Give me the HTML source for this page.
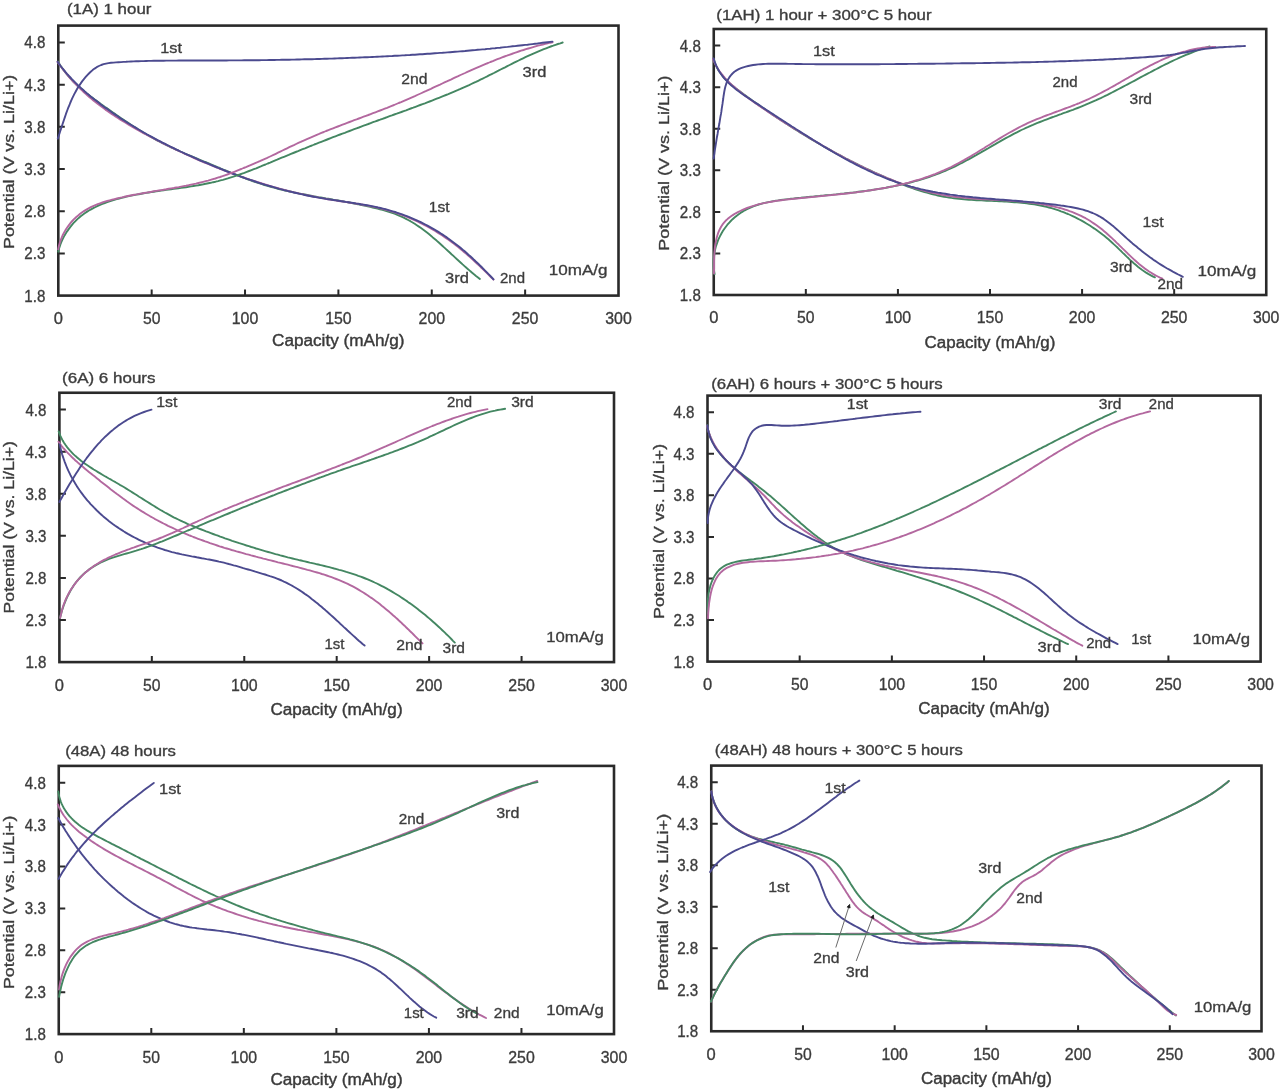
<!DOCTYPE html>
<html><head><meta charset="utf-8"><title>Charge-discharge curves</title>
<style>
html,body{margin:0;padding:0;background:#fff;}
body{width:1280px;height:1090px;overflow:hidden;}
svg{display:block;filter:blur(0.45px);}
.t{font-family:"Liberation Sans","Noto Sans CJK JP",sans-serif;font-size:14.5px;fill:#3a3a3a;stroke:#444;stroke-width:0.35px;}
.ax{font-family:"Liberation Sans",sans-serif;font-size:16px;fill:#3a3a3a;stroke:#3a3a3a;stroke-width:0.4px;}
.n{font-family:"Liberation Sans",sans-serif;font-size:16.5px;fill:#3a3a3a;stroke:#444;stroke-width:0.35px;}
.l{font-family:"Liberation Sans",sans-serif;font-size:15.5px;fill:#3a3a3a;stroke:#444;stroke-width:0.35px;}
</style></head><body>
<svg width="1280" height="1090" viewBox="0 0 1280 1090">
<rect width="1280" height="1090" fill="#fff"/>
<rect x="58.30" y="25.60" width="560.20" height="270.00" fill="none" stroke="#2a2a2a" stroke-width="2.6"/>
<path d="M58.30,253.41h6.5 M58.30,211.23h6.5 M58.30,169.04h6.5 M58.30,126.85h6.5 M58.30,84.66h6.5 M58.30,42.48h6.5 M151.67,295.60v-6 M245.03,295.60v-6 M338.40,295.60v-6 M431.77,295.60v-6 M525.13,295.60v-6" stroke="#2a2a2a" stroke-width="2" fill="none"/>
<text class="n" x="45.3" y="301.5" text-anchor="end" textLength="21.0" lengthAdjust="spacingAndGlyphs">1.8</text>
<text class="n" x="45.3" y="259.3" text-anchor="end" textLength="21.0" lengthAdjust="spacingAndGlyphs">2.3</text>
<text class="n" x="45.3" y="217.1" text-anchor="end" textLength="21.0" lengthAdjust="spacingAndGlyphs">2.8</text>
<text class="n" x="45.3" y="174.9" text-anchor="end" textLength="21.0" lengthAdjust="spacingAndGlyphs">3.3</text>
<text class="n" x="45.3" y="132.8" text-anchor="end" textLength="21.0" lengthAdjust="spacingAndGlyphs">3.8</text>
<text class="n" x="45.3" y="90.6" text-anchor="end" textLength="21.0" lengthAdjust="spacingAndGlyphs">4.3</text>
<text class="n" x="45.3" y="48.4" text-anchor="end" textLength="21.0" lengthAdjust="spacingAndGlyphs">4.8</text>
<text class="n" x="58.3" y="324.0" text-anchor="middle">0</text>
<text class="n" x="151.7" y="324.0" text-anchor="middle" textLength="17.5" lengthAdjust="spacingAndGlyphs">50</text>
<text class="n" x="245.0" y="324.0" text-anchor="middle" textLength="26.5" lengthAdjust="spacingAndGlyphs">100</text>
<text class="n" x="338.4" y="324.0" text-anchor="middle" textLength="26.5" lengthAdjust="spacingAndGlyphs">150</text>
<text class="n" x="431.8" y="324.0" text-anchor="middle" textLength="26.5" lengthAdjust="spacingAndGlyphs">200</text>
<text class="n" x="525.1" y="324.0" text-anchor="middle" textLength="26.5" lengthAdjust="spacingAndGlyphs">250</text>
<text class="n" x="618.5" y="324.0" text-anchor="middle" textLength="26.5" lengthAdjust="spacingAndGlyphs">300</text>
<text class="t" x="67.0" y="14.0" textLength="84.4" lengthAdjust="spacingAndGlyphs">(1A) 1 hour</text>
<text class="ax" x="272.0" y="346.4" textLength="132.5" lengthAdjust="spacingAndGlyphs">Capacity (mAh/g)</text>
<text class="t" transform="translate(14.0,249.0) rotate(-90)" x="0" y="0" textLength="174.3" lengthAdjust="spacingAndGlyphs">Potential (V vs. Li/Li+)</text>
<path d="M58.0,61.6 L59.3,63.7 L60.7,65.9 L62.1,68.0 L63.5,70.0 L65.0,72.0 L66.6,74.0 L68.2,75.9 L69.9,77.8 L71.6,79.6 L73.3,81.5 L75.1,83.2 L76.9,85.0 L78.8,86.7 L80.7,88.3 L82.6,90.0 L84.5,91.6 L86.5,93.2 L88.4,94.8 L90.4,96.3 L92.4,97.8 L94.4,99.3 L96.5,100.8 L98.5,102.3 L100.5,103.8 L102.6,105.2 L104.6,106.7 L106.7,108.1 L108.8,109.6 L110.8,111.0 L112.9,112.5 L114.9,113.9 L117.0,115.4 L119.1,116.8 L121.1,118.2 L123.2,119.6 L125.3,121.0 L127.4,122.4 L129.5,123.8 L131.6,125.2 L133.7,126.6 L135.9,127.9 L138.0,129.2 L140.1,130.6 L142.3,131.9 L144.4,133.2 L146.6,134.5 L148.8,135.7 L151.0,137.0 L153.2,138.2 L155.4,139.4 L157.6,140.6 L159.8,141.7 L162.1,142.9 L164.3,144.0 L166.6,145.1 L168.8,146.2 L171.1,147.3 L173.4,148.3 L175.7,149.4 L178.0,150.4 L180.3,151.5 L182.6,152.5 L184.9,153.5 L187.2,154.5 L189.5,155.5 L191.8,156.4 L194.1,157.4 L196.5,158.4 L198.8,159.3 L201.1,160.3 L203.4,161.3 L205.8,162.2 L208.1,163.2 L210.4,164.2 L212.7,165.1 L215.1,166.1 L217.4,167.1 L219.7,168.0 L222.0,169.0 L224.3,170.0 L226.7,170.9 L229.0,171.9 L231.3,172.9 L233.6,173.8 L236.0,174.7 L238.3,175.7 L240.7,176.6 L243.0,177.5 L245.4,178.4 L247.7,179.3 L250.1,180.2 L252.4,181.0 L254.8,181.8 L257.2,182.6 L259.6,183.4 L262.0,184.2 L264.4,185.0 L266.8,185.7 L269.2,186.4 L271.6,187.1 L274.1,187.7 L276.5,188.4 L278.9,189.0 L281.4,189.6 L283.8,190.2 L286.3,190.7 L288.7,191.3 L291.2,191.8 L293.6,192.3 L296.1,192.9 L298.6,193.4 L301.0,193.9 L303.5,194.3 L306.0,194.8 L308.5,195.3 L310.9,195.7 L313.4,196.2 L315.9,196.6 L318.4,197.1 L320.8,197.5 L323.3,197.9 L325.8,198.4 L328.3,198.8 L330.8,199.2 L333.2,199.7 L335.7,200.1 L338.2,200.5 L340.7,201.0 L343.1,201.4 L345.6,201.9 L348.1,202.3 L350.6,202.8 L353.0,203.3 L355.5,203.8 L358.0,204.2 L360.4,204.8 L362.9,205.3 L365.4,205.8 L367.8,206.3 L370.3,206.9 L372.7,207.5 L375.2,208.1 L377.6,208.7 L380.0,209.3 L382.5,209.9 L384.9,210.6 L387.3,211.3 L389.7,212.1 L392.1,212.9 L394.5,213.7 L396.8,214.6 L399.1,215.6 L401.5,216.6 L403.7,217.7 L406.0,218.8 L408.2,220.0 L410.4,221.2 L412.6,222.5 L414.7,223.8 L416.8,225.2 L418.9,226.6 L421.0,228.0 L423.0,229.5 L425.0,231.0 L427.0,232.6 L428.9,234.1 L430.9,235.7 L432.8,237.4 L434.7,239.0 L436.6,240.6 L438.5,242.3 L440.4,244.0 L442.3,245.7 L444.1,247.4 L446.0,249.1 L447.8,250.8 L449.7,252.5 L451.5,254.2 L453.4,255.9 L455.2,257.6 L457.0,259.3 L458.9,261.0 L460.8,262.7 L462.6,264.4 L464.5,266.1 L466.4,267.8 L468.3,269.4 L470.2,271.1 L472.1,272.7 L474.0,274.3 L476.0,275.9 L478.0,277.4 L479.9,279.0" stroke="#448762" stroke-width="1.90" fill="none" stroke-linecap="round" stroke-linejoin="round"/>
<path d="M57.5,61.9 L58.9,63.9 L60.4,66.0 L61.9,68.0 L63.4,70.0 L65.0,72.0 L66.6,73.9 L68.2,75.9 L69.8,77.8 L71.5,79.6 L73.2,81.5 L74.9,83.3 L76.7,85.2 L78.4,86.9 L80.2,88.7 L82.0,90.4 L83.9,92.2 L85.7,93.8 L87.6,95.5 L89.5,97.2 L91.5,98.8 L93.4,100.4 L95.4,102.0 L97.3,103.5 L99.3,105.1 L101.3,106.6 L103.4,108.1 L105.4,109.6 L107.4,111.0 L109.5,112.5 L111.6,113.9 L113.7,115.3 L115.8,116.7 L117.9,118.0 L120.0,119.4 L122.1,120.7 L124.3,122.0 L126.4,123.3 L128.6,124.6 L130.8,125.9 L132.9,127.2 L135.1,128.4 L137.3,129.7 L139.5,130.9 L141.7,132.1 L143.9,133.3 L146.1,134.5 L148.4,135.7 L150.6,136.9 L152.8,138.0 L155.1,139.2 L157.3,140.4 L159.5,141.5 L161.8,142.6 L164.0,143.8 L166.3,144.9 L168.5,146.0 L170.8,147.1 L173.1,148.2 L175.3,149.3 L177.6,150.4 L179.9,151.5 L182.1,152.5 L184.4,153.6 L186.7,154.7 L189.0,155.7 L191.3,156.7 L193.6,157.8 L195.9,158.8 L198.2,159.8 L200.5,160.8 L202.8,161.8 L205.1,162.8 L207.5,163.7 L209.8,164.7 L212.1,165.7 L214.5,166.6 L216.8,167.5 L219.1,168.5 L221.5,169.4 L223.8,170.3 L226.2,171.2 L228.5,172.1 L230.9,173.0 L233.2,173.8 L235.6,174.7 L238.0,175.5 L240.3,176.4 L242.7,177.2 L245.1,178.0 L247.5,178.9 L249.9,179.7 L252.3,180.4 L254.7,181.2 L257.1,182.0 L259.5,182.7 L261.9,183.5 L264.3,184.2 L266.7,184.9 L269.1,185.7 L271.5,186.4 L273.9,187.1 L276.3,187.7 L278.8,188.4 L281.2,189.1 L283.6,189.7 L286.1,190.3 L288.5,191.0 L291.0,191.6 L293.4,192.2 L295.8,192.8 L298.3,193.3 L300.8,193.9 L303.2,194.4 L305.7,195.0 L308.1,195.5 L310.6,196.0 L313.1,196.5 L315.5,197.0 L318.0,197.4 L320.5,197.9 L323.0,198.4 L325.4,198.8 L327.9,199.2 L330.4,199.6 L332.9,200.0 L335.4,200.4 L337.9,200.8 L340.3,201.2 L342.8,201.5 L345.3,201.9 L347.8,202.3 L350.3,202.7 L352.8,203.1 L355.3,203.5 L357.8,203.9 L360.2,204.3 L362.7,204.7 L365.2,205.2 L367.7,205.6 L370.1,206.1 L372.6,206.6 L375.1,207.1 L377.5,207.7 L380.0,208.3 L382.4,208.9 L384.9,209.5 L387.3,210.2 L389.7,210.9 L392.1,211.6 L394.5,212.4 L396.9,213.2 L399.3,214.0 L401.6,214.8 L404.0,215.7 L406.3,216.6 L408.7,217.6 L411.0,218.6 L413.3,219.6 L415.6,220.6 L417.9,221.7 L420.1,222.8 L422.4,223.9 L424.6,225.1 L426.8,226.2 L429.0,227.5 L431.2,228.7 L433.4,230.0 L435.6,231.2 L437.7,232.6 L439.8,233.9 L442.0,235.3 L444.0,236.7 L446.1,238.1 L448.2,239.5 L450.2,241.0 L452.2,242.5 L454.3,244.0 L456.2,245.6 L458.2,247.1 L460.2,248.7 L462.1,250.3 L464.0,251.9 L466.0,253.6 L467.9,255.2 L469.7,256.9 L471.6,258.6 L473.5,260.3 L475.3,262.0 L477.2,263.7 L479.0,265.4 L480.8,267.2 L482.6,268.9 L484.4,270.6 L486.2,272.4 L488.0,274.2 L489.8,276.0 L491.6,277.7 L493.4,279.5" stroke="#b3689f" stroke-width="1.90" fill="none" stroke-linecap="round" stroke-linejoin="round"/>
<path d="M57.7,61.9 L59.1,64.0 L60.6,66.0 L62.2,68.0 L63.8,69.9 L65.4,71.9 L67.0,73.8 L68.7,75.7 L70.4,77.5 L72.1,79.4 L73.9,81.2 L75.6,82.9 L77.4,84.7 L79.3,86.4 L81.1,88.2 L83.0,89.8 L84.8,91.5 L86.7,93.2 L88.7,94.8 L90.6,96.4 L92.6,98.0 L94.5,99.6 L96.5,101.1 L98.5,102.6 L100.5,104.2 L102.5,105.7 L104.5,107.2 L106.6,108.6 L108.6,110.1 L110.7,111.6 L112.7,113.0 L114.8,114.4 L116.9,115.8 L119.0,117.2 L121.1,118.6 L123.2,120.0 L125.3,121.3 L127.4,122.7 L129.6,124.0 L131.7,125.3 L133.9,126.6 L136.0,127.9 L138.2,129.2 L140.4,130.5 L142.5,131.8 L144.7,133.0 L146.9,134.3 L149.1,135.5 L151.3,136.7 L153.5,137.9 L155.7,139.1 L158.0,140.3 L160.2,141.4 L162.4,142.6 L164.7,143.7 L166.9,144.9 L169.2,146.0 L171.4,147.1 L173.7,148.2 L175.9,149.3 L178.2,150.4 L180.5,151.5 L182.8,152.5 L185.0,153.6 L187.3,154.6 L189.6,155.7 L191.9,156.7 L194.2,157.7 L196.5,158.7 L198.8,159.8 L201.1,160.8 L203.4,161.7 L205.8,162.7 L208.1,163.7 L210.4,164.7 L212.7,165.6 L215.1,166.6 L217.4,167.5 L219.7,168.5 L222.1,169.4 L224.4,170.3 L226.7,171.3 L229.1,172.2 L231.4,173.1 L233.8,174.0 L236.1,174.8 L238.5,175.7 L240.9,176.6 L243.2,177.4 L245.6,178.3 L248.0,179.1 L250.4,179.9 L252.7,180.7 L255.1,181.5 L257.5,182.3 L259.9,183.1 L262.3,183.8 L264.7,184.6 L267.1,185.3 L269.5,186.0 L272.0,186.7 L274.4,187.4 L276.8,188.1 L279.2,188.8 L281.7,189.4 L284.1,190.1 L286.5,190.7 L289.0,191.3 L291.4,191.9 L293.9,192.5 L296.3,193.0 L298.8,193.6 L301.2,194.1 L303.7,194.7 L306.1,195.2 L308.6,195.7 L311.1,196.2 L313.5,196.7 L316.0,197.1 L318.5,197.6 L321.0,198.0 L323.4,198.4 L325.9,198.9 L328.4,199.3 L330.9,199.6 L333.4,200.0 L335.9,200.4 L338.4,200.8 L340.9,201.1 L343.3,201.5 L345.8,201.9 L348.3,202.2 L350.8,202.6 L353.3,203.0 L355.8,203.4 L358.3,203.7 L360.8,204.2 L363.2,204.6 L365.7,205.0 L368.2,205.4 L370.7,205.9 L373.1,206.4 L375.6,206.9 L378.1,207.5 L380.5,208.0 L382.9,208.6 L385.4,209.2 L387.8,209.9 L390.2,210.6 L392.7,211.3 L395.1,212.0 L397.4,212.8 L399.8,213.6 L402.2,214.4 L404.6,215.3 L406.9,216.2 L409.3,217.1 L411.6,218.1 L413.9,219.1 L416.2,220.1 L418.5,221.2 L420.8,222.2 L423.0,223.3 L425.3,224.5 L427.5,225.7 L429.7,226.9 L431.9,228.1 L434.1,229.3 L436.2,230.6 L438.4,231.9 L440.5,233.3 L442.6,234.6 L444.7,236.0 L446.8,237.4 L448.9,238.9 L450.9,240.4 L452.9,241.9 L454.9,243.4 L456.9,244.9 L458.9,246.5 L460.8,248.1 L462.7,249.7 L464.7,251.3 L466.6,253.0 L468.4,254.7 L470.3,256.3 L472.2,258.0 L474.0,259.8 L475.8,261.5 L477.7,263.2 L479.5,265.0 L481.3,266.7 L483.0,268.5 L484.8,270.3 L486.6,272.1 L488.3,273.9 L490.1,275.7 L491.8,277.5 L493.5,279.4" stroke="#4b4a8f" stroke-width="1.90" fill="none" stroke-linecap="round" stroke-linejoin="round"/>
<path d="M58.2,251.7 L58.8,249.3 L59.6,246.9 L60.4,244.5 L61.3,242.2 L62.3,239.9 L63.4,237.6 L64.6,235.4 L65.9,233.3 L67.3,231.1 L68.7,229.1 L70.2,227.1 L71.8,225.1 L73.4,223.2 L75.2,221.4 L76.9,219.6 L78.8,217.9 L80.7,216.3 L82.7,214.8 L84.7,213.3 L86.8,211.9 L88.9,210.5 L91.1,209.3 L93.3,208.1 L95.6,207.0 L97.8,205.9 L100.1,204.9 L102.4,203.9 L104.8,203.0 L107.2,202.1 L109.5,201.3 L111.9,200.6 L114.3,199.8 L116.7,199.1 L119.2,198.5 L121.6,197.9 L124.0,197.3 L126.5,196.7 L128.9,196.1 L131.4,195.6 L133.9,195.1 L136.3,194.6 L138.8,194.2 L141.3,193.7 L143.7,193.3 L146.2,192.9 L148.7,192.5 L151.2,192.1 L153.7,191.7 L156.1,191.3 L158.6,191.0 L161.1,190.6 L163.6,190.3 L166.1,189.9 L168.6,189.6 L171.1,189.3 L173.6,188.9 L176.1,188.6 L178.5,188.2 L181.0,187.9 L183.5,187.5 L186.0,187.2 L188.5,186.8 L191.0,186.4 L193.5,186.0 L195.9,185.6 L198.4,185.2 L200.9,184.7 L203.4,184.3 L205.8,183.8 L208.3,183.3 L210.7,182.8 L213.2,182.2 L215.6,181.7 L218.1,181.1 L220.5,180.4 L222.9,179.8 L225.4,179.1 L227.8,178.4 L230.2,177.6 L232.6,176.9 L234.9,176.1 L237.3,175.3 L239.7,174.5 L242.1,173.6 L244.4,172.8 L246.8,171.9 L249.1,171.0 L251.5,170.1 L253.8,169.2 L256.2,168.3 L258.5,167.3 L260.8,166.4 L263.1,165.4 L265.5,164.5 L267.8,163.5 L270.1,162.6 L272.4,161.6 L274.7,160.6 L277.1,159.7 L279.4,158.7 L281.7,157.7 L284.0,156.8 L286.4,155.8 L288.7,154.9 L291.0,153.9 L293.3,153.0 L295.7,152.0 L298.0,151.1 L300.3,150.1 L302.6,149.2 L305.0,148.3 L307.3,147.3 L309.6,146.4 L312.0,145.5 L314.3,144.5 L316.7,143.6 L319.0,142.7 L321.3,141.8 L323.7,140.9 L326.0,140.0 L328.4,139.0 L330.7,138.1 L333.0,137.2 L335.4,136.3 L337.7,135.4 L340.1,134.5 L342.4,133.6 L344.8,132.8 L347.1,131.9 L349.5,131.0 L351.8,130.1 L354.2,129.2 L356.5,128.3 L358.9,127.5 L361.2,126.6 L363.6,125.7 L366.0,124.8 L368.3,124.0 L370.7,123.1 L373.0,122.2 L375.4,121.4 L377.8,120.5 L380.1,119.7 L382.5,118.8 L384.8,118.0 L387.2,117.1 L389.6,116.2 L391.9,115.4 L394.3,114.5 L396.7,113.7 L399.0,112.8 L401.4,112.0 L403.7,111.1 L406.1,110.3 L408.5,109.4 L410.8,108.5 L413.2,107.7 L415.5,106.8 L417.9,105.9 L420.2,105.0 L422.6,104.1 L424.9,103.3 L427.3,102.4 L429.6,101.5 L432.0,100.6 L434.3,99.7 L436.7,98.7 L439.0,97.8 L441.3,96.9 L443.7,95.9 L446.0,95.0 L448.3,94.1 L450.6,93.1 L453.0,92.1 L455.3,91.1 L457.6,90.2 L459.9,89.2 L462.2,88.1 L464.5,87.1 L466.8,86.1 L469.1,85.1 L471.3,84.0 L473.6,82.9 L475.9,81.9 L478.2,80.8 L480.4,79.7 L482.7,78.6 L484.9,77.5 L487.2,76.4 L489.4,75.2 L491.7,74.1 L493.9,73.0 L496.1,71.8 L498.4,70.7 L500.6,69.5 L502.9,68.4 L505.1,67.3 L507.3,66.1 L509.6,65.0 L511.8,63.9 L514.1,62.7 L516.3,61.6 L518.6,60.5 L520.8,59.4 L523.1,58.3 L525.4,57.2 L527.6,56.2 L529.9,55.1 L532.2,54.1 L534.5,53.1 L536.8,52.1 L539.1,51.1 L541.5,50.1 L543.8,49.2 L546.1,48.3 L548.5,47.4 L550.8,46.5 L553.2,45.7 L555.6,44.8 L557.9,44.0 L560.3,43.3 L562.7,42.5" stroke="#448762" stroke-width="1.90" fill="none" stroke-linecap="round" stroke-linejoin="round"/>
<path d="M58.2,249.3 L58.7,246.8 L59.3,244.4 L60.0,242.0 L60.9,239.6 L61.8,237.3 L62.8,235.0 L64.0,232.8 L65.2,230.6 L66.5,228.5 L68.0,226.4 L69.5,224.4 L71.0,222.4 L72.7,220.5 L74.5,218.7 L76.3,217.0 L78.2,215.4 L80.1,213.8 L82.2,212.3 L84.3,210.9 L86.4,209.6 L88.6,208.4 L90.8,207.2 L93.1,206.1 L95.4,205.1 L97.7,204.2 L100.1,203.3 L102.4,202.5 L104.8,201.7 L107.2,201.0 L109.7,200.3 L112.1,199.7 L114.5,199.1 L117.0,198.5 L119.4,197.9 L121.9,197.4 L124.3,196.8 L126.8,196.3 L129.2,195.8 L131.7,195.3 L134.2,194.8 L136.6,194.4 L139.1,193.9 L141.6,193.5 L144.0,193.0 L146.5,192.6 L149.0,192.2 L151.5,191.8 L153.9,191.3 L156.4,190.9 L158.9,190.5 L161.4,190.1 L163.9,189.7 L166.3,189.3 L168.8,188.8 L171.3,188.4 L173.8,188.0 L176.2,187.5 L178.7,187.1 L181.2,186.6 L183.6,186.1 L186.1,185.7 L188.6,185.2 L191.0,184.6 L193.5,184.1 L195.9,183.6 L198.4,183.0 L200.8,182.4 L203.2,181.8 L205.7,181.2 L208.1,180.6 L210.5,179.9 L212.9,179.2 L215.4,178.5 L217.7,177.7 L220.1,177.0 L222.5,176.2 L224.9,175.3 L227.3,174.5 L229.6,173.6 L232.0,172.7 L234.3,171.8 L236.6,170.9 L239.0,169.9 L241.3,169.0 L243.6,168.0 L245.9,167.1 L248.2,166.1 L250.6,165.1 L252.9,164.1 L255.2,163.1 L257.5,162.2 L259.8,161.2 L262.1,160.1 L264.4,159.1 L266.7,158.1 L269.0,157.0 L271.2,156.0 L273.5,154.9 L275.8,153.8 L278.0,152.7 L280.3,151.6 L282.5,150.5 L284.8,149.4 L287.1,148.3 L289.3,147.2 L291.6,146.1 L293.9,145.1 L296.1,144.0 L298.4,142.9 L300.7,141.9 L303.0,140.8 L305.3,139.8 L307.5,138.8 L309.9,137.8 L312.2,136.8 L314.5,135.8 L316.8,134.8 L319.1,133.9 L321.4,132.9 L323.8,132.0 L326.1,131.0 L328.4,130.1 L330.8,129.2 L333.1,128.3 L335.4,127.4 L337.8,126.5 L340.1,125.6 L342.5,124.7 L344.8,123.8 L347.2,122.9 L349.5,122.0 L351.9,121.1 L354.2,120.2 L356.6,119.4 L358.9,118.5 L361.3,117.6 L363.6,116.7 L366.0,115.8 L368.3,115.0 L370.7,114.1 L373.0,113.2 L375.4,112.3 L377.7,111.4 L380.1,110.5 L382.4,109.6 L384.8,108.7 L387.1,107.8 L389.4,106.8 L391.8,105.9 L394.1,105.0 L396.4,104.0 L398.7,103.0 L401.1,102.1 L403.4,101.1 L405.7,100.1 L408.0,99.1 L410.3,98.1 L412.6,97.1 L414.9,96.1 L417.2,95.0 L419.5,94.0 L421.7,93.0 L424.0,91.9 L426.3,90.9 L428.6,89.8 L430.9,88.8 L433.2,87.7 L435.4,86.7 L437.7,85.6 L440.0,84.6 L442.3,83.5 L444.5,82.4 L446.8,81.4 L449.1,80.3 L451.4,79.3 L453.7,78.2 L455.9,77.1 L458.2,76.1 L460.5,75.0 L462.8,74.0 L465.1,73.0 L467.4,71.9 L469.7,70.9 L471.9,69.9 L474.2,68.9 L476.5,67.9 L478.9,66.9 L481.2,65.9 L483.5,64.9 L485.8,63.9 L488.1,63.0 L490.4,62.0 L492.8,61.1 L495.1,60.1 L497.4,59.2 L499.8,58.3 L502.1,57.4 L504.5,56.5 L506.8,55.7 L509.2,54.8 L511.6,54.0 L513.9,53.1 L516.3,52.3 L518.7,51.5 L521.1,50.7 L523.5,50.0 L525.9,49.2 L528.3,48.5 L530.7,47.8 L533.1,47.1 L535.5,46.4 L537.9,45.7 L540.3,45.1 L542.8,44.5 L545.2,43.9 L547.7,43.3 L550.1,42.7 L552.6,42.2" stroke="#b3689f" stroke-width="1.90" fill="none" stroke-linecap="round" stroke-linejoin="round"/>
<path d="M57.8,138.6 L58.6,136.2 L59.4,133.8 L60.1,131.4 L60.9,129.1 L61.7,126.7 L62.5,124.3 L63.3,121.9 L64.1,119.5 L64.9,117.1 L65.7,114.8 L66.5,112.4 L67.4,110.0 L68.3,107.7 L69.3,105.3 L70.2,103.0 L71.2,100.7 L72.2,98.4 L73.3,96.2 L74.4,93.9 L75.6,91.7 L76.8,89.5 L78.1,87.3 L79.5,85.2 L80.9,83.1 L82.3,81.1 L83.9,79.1 L85.5,77.2 L87.1,75.3 L88.9,73.5 L90.7,71.8 L92.6,70.1 L94.6,68.6 L96.7,67.2 L98.9,66.0 L101.2,65.0 L103.6,64.2 L106.0,63.6 L108.5,63.1 L111.0,62.8 L113.5,62.6 L116.0,62.4 L118.5,62.2 L121.0,62.1 L123.5,61.9 L126.0,61.8 L128.5,61.6 L131.0,61.5 L133.6,61.4 L136.1,61.3 L138.6,61.2 L141.1,61.1 L143.6,61.1 L146.1,61.0 L148.6,60.9 L151.1,60.9 L153.7,60.8 L156.2,60.8 L158.7,60.7 L161.2,60.7 L163.7,60.7 L166.2,60.6 L168.7,60.6 L171.2,60.6 L173.8,60.6 L176.3,60.6 L178.8,60.5 L181.3,60.5 L183.8,60.5 L186.3,60.5 L188.8,60.5 L191.3,60.5 L193.9,60.5 L196.4,60.5 L198.9,60.5 L201.4,60.5 L203.9,60.5 L206.4,60.5 L208.9,60.5 L211.4,60.5 L214.0,60.5 L216.5,60.5 L219.0,60.5 L221.5,60.5 L224.0,60.5 L226.5,60.5 L229.0,60.4 L231.6,60.4 L234.1,60.4 L236.6,60.4 L239.1,60.4 L241.6,60.4 L244.1,60.3 L246.6,60.3 L249.1,60.3 L251.7,60.3 L254.2,60.2 L256.7,60.2 L259.2,60.2 L261.7,60.1 L264.2,60.1 L266.7,60.1 L269.2,60.0 L271.8,60.0 L274.3,60.0 L276.8,59.9 L279.3,59.9 L281.8,59.8 L284.3,59.8 L286.8,59.7 L289.3,59.7 L291.9,59.6 L294.4,59.6 L296.9,59.5 L299.4,59.5 L301.9,59.4 L304.4,59.3 L306.9,59.3 L309.4,59.2 L312.0,59.2 L314.5,59.1 L317.0,59.0 L319.5,59.0 L322.0,58.9 L324.5,58.8 L327.0,58.7 L329.5,58.6 L332.0,58.6 L334.6,58.5 L337.1,58.4 L339.6,58.3 L342.1,58.2 L344.6,58.1 L347.1,58.0 L349.6,57.9 L352.1,57.8 L354.7,57.7 L357.2,57.6 L359.7,57.5 L362.2,57.4 L364.7,57.3 L367.2,57.2 L369.7,57.1 L372.2,57.0 L374.7,56.9 L377.2,56.7 L379.8,56.6 L382.3,56.5 L384.8,56.4 L387.3,56.2 L389.8,56.1 L392.3,56.0 L394.8,55.8 L397.3,55.7 L399.8,55.6 L402.3,55.4 L404.8,55.3 L407.4,55.1 L409.9,55.0 L412.4,54.8 L414.9,54.7 L417.4,54.5 L419.9,54.3 L422.4,54.2 L424.9,54.0 L427.4,53.8 L429.9,53.7 L432.4,53.5 L434.9,53.3 L437.4,53.1 L440.0,52.9 L442.5,52.8 L445.0,52.6 L447.5,52.4 L450.0,52.2 L452.5,52.0 L455.0,51.8 L457.5,51.6 L460.0,51.4 L462.5,51.2 L465.0,51.0 L467.5,50.7 L470.0,50.5 L472.5,50.3 L475.0,50.1 L477.5,49.8 L480.0,49.6 L482.5,49.4 L485.0,49.2 L487.5,48.9 L490.0,48.7 L492.5,48.4 L495.0,48.2 L497.5,47.9 L500.0,47.7 L502.5,47.4 L505.0,47.1 L507.5,46.9 L510.0,46.6 L512.5,46.3 L515.0,46.1 L517.5,45.8 L520.0,45.5 L522.5,45.2 L525.0,44.9 L527.5,44.7 L530.0,44.4 L532.5,44.1 L535.0,43.8 L537.5,43.5 L540.0,43.1 L542.5,42.8 L545.0,42.5 L547.5,42.2 L550.0,41.9 L552.4,41.6" stroke="#4b4a8f" stroke-width="1.90" fill="none" stroke-linecap="round" stroke-linejoin="round"/>
<text class="l" x="160.3" y="53.4" textLength="21.7" lengthAdjust="spacingAndGlyphs">1st</text>
<text class="l" x="401.2" y="84.0" textLength="26.2" lengthAdjust="spacingAndGlyphs">2nd</text>
<text class="l" x="522.5" y="77.0" textLength="23.8" lengthAdjust="spacingAndGlyphs">3rd</text>
<text class="l" x="428.8" y="211.5" textLength="20.8" lengthAdjust="spacingAndGlyphs">1st</text>
<text class="l" x="445.0" y="282.8" textLength="23.8" lengthAdjust="spacingAndGlyphs">3rd</text>
<text class="l" x="500.0" y="282.8" textLength="25.0" lengthAdjust="spacingAndGlyphs">2nd</text>
<text class="l" x="548.8" y="275.2" textLength="58.8" lengthAdjust="spacingAndGlyphs">10mA/g</text>
<rect x="713.75" y="29.00" width="552.50" height="266.00" fill="none" stroke="#2a2a2a" stroke-width="2.6"/>
<path d="M713.75,253.44h6.5 M713.75,211.88h6.5 M713.75,170.31h6.5 M713.75,128.75h6.5 M713.75,87.19h6.5 M713.75,45.62h6.5 M805.83,295.00v-6 M897.92,295.00v-6 M990.00,295.00v-6 M1082.08,295.00v-6 M1174.17,295.00v-6" stroke="#2a2a2a" stroke-width="2" fill="none"/>
<text class="n" x="700.8" y="300.9" text-anchor="end" textLength="21.0" lengthAdjust="spacingAndGlyphs">1.8</text>
<text class="n" x="700.8" y="259.3" text-anchor="end" textLength="21.0" lengthAdjust="spacingAndGlyphs">2.3</text>
<text class="n" x="700.8" y="217.8" text-anchor="end" textLength="21.0" lengthAdjust="spacingAndGlyphs">2.8</text>
<text class="n" x="700.8" y="176.2" text-anchor="end" textLength="21.0" lengthAdjust="spacingAndGlyphs">3.3</text>
<text class="n" x="700.8" y="134.7" text-anchor="end" textLength="21.0" lengthAdjust="spacingAndGlyphs">3.8</text>
<text class="n" x="700.8" y="93.1" text-anchor="end" textLength="21.0" lengthAdjust="spacingAndGlyphs">4.3</text>
<text class="n" x="700.8" y="51.5" text-anchor="end" textLength="21.0" lengthAdjust="spacingAndGlyphs">4.8</text>
<text class="n" x="713.8" y="323.4" text-anchor="middle">0</text>
<text class="n" x="805.8" y="323.4" text-anchor="middle" textLength="17.5" lengthAdjust="spacingAndGlyphs">50</text>
<text class="n" x="897.9" y="323.4" text-anchor="middle" textLength="26.5" lengthAdjust="spacingAndGlyphs">100</text>
<text class="n" x="990.0" y="323.4" text-anchor="middle" textLength="26.5" lengthAdjust="spacingAndGlyphs">150</text>
<text class="n" x="1082.1" y="323.4" text-anchor="middle" textLength="26.5" lengthAdjust="spacingAndGlyphs">200</text>
<text class="n" x="1174.2" y="323.4" text-anchor="middle" textLength="26.5" lengthAdjust="spacingAndGlyphs">250</text>
<text class="n" x="1266.2" y="323.4" text-anchor="middle" textLength="26.5" lengthAdjust="spacingAndGlyphs">300</text>
<text class="t" x="716.3" y="20.3" textLength="215.3" lengthAdjust="spacingAndGlyphs">(1AH) 1 hour + 300°C 5 hour</text>
<text class="ax" x="924.6" y="347.5" textLength="130.8" lengthAdjust="spacingAndGlyphs">Capacity (mAh/g)</text>
<text class="t" transform="translate(669.2,250.8) rotate(-90)" x="0" y="0" textLength="175.2" lengthAdjust="spacingAndGlyphs">Potential (V vs. Li/Li+)</text>
<path d="M713.4,58.7 L714.2,61.1 L715.0,63.4 L716.0,65.7 L717.2,68.0 L718.4,70.2 L719.8,72.3 L721.3,74.3 L722.8,76.3 L724.5,78.2 L726.2,80.0 L728.0,81.8 L729.9,83.5 L731.8,85.1 L733.7,86.7 L735.7,88.3 L737.7,89.8 L739.7,91.3 L741.7,92.8 L743.7,94.3 L745.8,95.8 L747.8,97.3 L749.9,98.7 L751.9,100.2 L754.0,101.7 L756.0,103.1 L758.1,104.6 L760.1,106.0 L762.2,107.5 L764.3,108.9 L766.3,110.3 L768.4,111.7 L770.5,113.2 L772.6,114.6 L774.6,116.0 L776.7,117.4 L778.8,118.8 L780.9,120.2 L783.0,121.5 L785.1,122.9 L787.3,124.3 L789.4,125.7 L791.5,127.0 L793.6,128.4 L795.7,129.7 L797.9,131.0 L800.0,132.4 L802.2,133.7 L804.3,135.0 L806.4,136.3 L808.6,137.6 L810.8,138.9 L812.9,140.2 L815.1,141.4 L817.3,142.7 L819.5,144.0 L821.6,145.2 L823.8,146.5 L826.0,147.7 L828.2,148.9 L830.4,150.1 L832.6,151.4 L834.8,152.6 L837.0,153.8 L839.3,154.9 L841.5,156.1 L843.7,157.3 L845.9,158.5 L848.2,159.6 L850.4,160.8 L852.7,161.9 L854.9,163.0 L857.2,164.1 L859.4,165.3 L861.7,166.4 L863.9,167.5 L866.2,168.6 L868.5,169.6 L870.8,170.7 L873.0,171.8 L875.3,172.8 L877.6,173.9 L879.9,174.9 L882.2,175.9 L884.5,176.9 L886.8,178.0 L889.1,179.0 L891.4,179.9 L893.7,180.9 L896.1,181.9 L898.4,182.8 L900.7,183.8 L903.1,184.7 L905.4,185.6 L907.8,186.5 L910.2,187.3 L912.5,188.2 L914.9,189.0 L917.3,189.8 L919.7,190.5 L922.1,191.3 L924.5,192.0 L926.9,192.7 L929.3,193.4 L931.8,194.0 L934.2,194.6 L936.7,195.2 L939.1,195.7 L941.6,196.2 L944.1,196.7 L946.5,197.1 L949.0,197.5 L951.5,197.9 L954.0,198.2 L956.5,198.5 L959.0,198.8 L961.5,199.0 L964.0,199.3 L966.5,199.5 L969.0,199.7 L971.5,199.8 L974.1,200.0 L976.6,200.2 L979.1,200.3 L981.6,200.4 L984.1,200.6 L986.6,200.7 L989.1,200.8 L991.7,200.9 L994.2,201.0 L996.7,201.1 L999.2,201.2 L1001.7,201.4 L1004.2,201.5 L1006.7,201.6 L1009.2,201.8 L1011.7,202.0 L1014.3,202.2 L1016.8,202.4 L1019.3,202.6 L1021.8,202.8 L1024.3,203.1 L1026.8,203.4 L1029.3,203.7 L1031.8,204.0 L1034.3,204.4 L1036.7,204.8 L1039.2,205.3 L1041.7,205.8 L1044.1,206.3 L1046.6,206.9 L1049.0,207.5 L1051.5,208.2 L1053.9,208.9 L1056.3,209.6 L1058.7,210.4 L1061.0,211.3 L1063.4,212.1 L1065.7,213.1 L1068.0,214.0 L1070.3,215.0 L1072.6,216.1 L1074.9,217.2 L1077.2,218.3 L1079.4,219.5 L1081.6,220.7 L1083.8,221.9 L1086.0,223.2 L1088.1,224.5 L1090.2,225.8 L1092.3,227.2 L1094.4,228.6 L1096.5,230.1 L1098.5,231.5 L1100.5,233.0 L1102.5,234.6 L1104.5,236.1 L1106.5,237.7 L1108.4,239.3 L1110.3,241.0 L1112.2,242.7 L1114.0,244.4 L1115.9,246.1 L1117.7,247.8 L1119.5,249.6 L1121.3,251.3 L1123.1,253.1 L1124.9,254.8 L1126.7,256.6 L1128.5,258.3 L1130.3,260.1 L1132.2,261.8 L1134.1,263.5 L1136.0,265.1 L1137.9,266.7 L1139.9,268.3 L1141.9,269.8 L1144.0,271.2 L1146.1,272.6 L1148.2,273.9 L1150.4,275.1 L1152.6,276.3 L1154.9,277.3" stroke="#448762" stroke-width="1.90" fill="none" stroke-linecap="round" stroke-linejoin="round"/>
<path d="M713.0,59.0 L714.0,61.4 L715.0,63.6 L716.2,65.9 L717.5,68.1 L718.8,70.2 L720.3,72.2 L721.8,74.2 L723.4,76.2 L725.0,78.1 L726.7,79.9 L728.5,81.7 L730.3,83.5 L732.2,85.2 L734.1,86.8 L736.0,88.5 L737.9,90.1 L739.9,91.6 L741.9,93.2 L743.9,94.7 L745.9,96.2 L747.9,97.7 L749.9,99.2 L752.0,100.7 L754.0,102.2 L756.1,103.6 L758.1,105.1 L760.2,106.5 L762.3,107.9 L764.4,109.3 L766.5,110.7 L768.6,112.1 L770.7,113.5 L772.8,114.9 L774.9,116.3 L777.0,117.7 L779.1,119.0 L781.2,120.4 L783.3,121.7 L785.5,123.1 L787.6,124.4 L789.7,125.7 L791.9,127.1 L794.0,128.4 L796.2,129.7 L798.3,131.0 L800.4,132.4 L802.6,133.7 L804.7,135.0 L806.9,136.3 L809.0,137.6 L811.2,138.9 L813.4,140.2 L815.5,141.5 L817.7,142.8 L819.9,144.0 L822.0,145.3 L824.2,146.6 L826.4,147.8 L828.6,149.1 L830.8,150.3 L833.0,151.5 L835.2,152.8 L837.4,154.0 L839.6,155.2 L841.8,156.4 L844.0,157.6 L846.2,158.8 L848.5,159.9 L850.7,161.1 L852.9,162.2 L855.2,163.4 L857.4,164.5 L859.7,165.6 L861.9,166.7 L864.2,167.8 L866.5,168.9 L868.8,170.0 L871.0,171.0 L873.3,172.1 L875.6,173.1 L877.9,174.1 L880.2,175.1 L882.6,176.1 L884.9,177.1 L887.2,178.1 L889.5,179.0 L891.9,179.9 L894.2,180.9 L896.6,181.8 L898.9,182.6 L901.3,183.5 L903.7,184.3 L906.1,185.2 L908.4,186.0 L910.8,186.8 L913.2,187.5 L915.6,188.3 L918.0,189.0 L920.5,189.7 L922.9,190.4 L925.3,191.0 L927.7,191.7 L930.2,192.3 L932.6,192.8 L935.1,193.4 L937.6,193.9 L940.0,194.4 L942.5,194.9 L945.0,195.3 L947.5,195.7 L950.0,196.1 L952.5,196.4 L954.9,196.8 L957.4,197.1 L959.9,197.3 L962.5,197.6 L965.0,197.9 L967.5,198.1 L970.0,198.3 L972.5,198.5 L975.0,198.7 L977.5,198.8 L980.0,199.0 L982.5,199.2 L985.0,199.3 L987.6,199.4 L990.1,199.6 L992.6,199.7 L995.1,199.9 L997.6,200.0 L1000.1,200.1 L1002.6,200.3 L1005.2,200.4 L1007.7,200.6 L1010.2,200.7 L1012.7,200.9 L1015.2,201.1 L1017.7,201.3 L1020.2,201.5 L1022.7,201.7 L1025.2,201.9 L1027.7,202.2 L1030.2,202.5 L1032.7,202.8 L1035.2,203.1 L1037.7,203.5 L1040.2,203.9 L1042.7,204.3 L1045.2,204.7 L1047.6,205.2 L1050.1,205.7 L1052.6,206.2 L1055.0,206.8 L1057.5,207.4 L1059.9,208.0 L1062.3,208.7 L1064.7,209.5 L1067.1,210.2 L1069.5,211.1 L1071.9,211.9 L1074.2,212.8 L1076.5,213.8 L1078.8,214.8 L1081.1,215.9 L1083.4,217.1 L1085.6,218.2 L1087.8,219.5 L1089.9,220.8 L1092.0,222.2 L1094.1,223.6 L1096.2,225.0 L1098.2,226.5 L1100.2,228.0 L1102.2,229.6 L1104.1,231.2 L1106.0,232.8 L1107.9,234.5 L1109.8,236.2 L1111.7,237.9 L1113.5,239.6 L1115.3,241.3 L1117.1,243.1 L1118.9,244.8 L1120.7,246.6 L1122.5,248.4 L1124.3,250.1 L1126.1,251.9 L1127.9,253.7 L1129.7,255.4 L1131.5,257.1 L1133.4,258.9 L1135.2,260.5 L1137.1,262.2 L1139.0,263.9 L1141.0,265.5 L1142.9,267.0 L1144.9,268.6 L1147.0,270.0 L1149.1,271.5 L1151.2,272.8 L1153.3,274.1 L1155.5,275.4 L1157.8,276.5 L1160.0,277.6 L1162.4,278.6" stroke="#b3689f" stroke-width="1.90" fill="none" stroke-linecap="round" stroke-linejoin="round"/>
<path d="M713.7,58.4 L714.4,60.9 L715.2,63.2 L716.2,65.6 L717.3,67.9 L718.5,70.1 L719.8,72.2 L721.2,74.3 L722.7,76.4 L724.3,78.3 L726.0,80.2 L727.7,82.0 L729.5,83.8 L731.4,85.5 L733.3,87.1 L735.3,88.7 L737.2,90.3 L739.3,91.8 L741.3,93.3 L743.4,94.7 L745.5,96.1 L747.6,97.5 L749.7,98.9 L751.8,100.3 L753.9,101.7 L756.0,103.1 L758.1,104.4 L760.2,105.8 L762.3,107.2 L764.4,108.6 L766.5,110.0 L768.7,111.4 L770.8,112.7 L772.9,114.1 L775.0,115.5 L777.1,116.9 L779.2,118.2 L781.3,119.6 L783.5,121.0 L785.6,122.4 L787.7,123.7 L789.8,125.1 L791.9,126.5 L794.1,127.8 L796.2,129.2 L798.3,130.5 L800.4,131.9 L802.6,133.3 L804.7,134.6 L806.8,135.9 L809.0,137.3 L811.1,138.6 L813.2,140.0 L815.4,141.3 L817.5,142.6 L819.7,143.9 L821.8,145.3 L824.0,146.6 L826.2,147.9 L828.3,149.2 L830.5,150.4 L832.7,151.7 L834.8,153.0 L837.0,154.2 L839.2,155.5 L841.4,156.7 L843.6,158.0 L845.8,159.2 L848.1,160.4 L850.3,161.6 L852.5,162.7 L854.7,163.9 L857.0,165.1 L859.2,166.2 L861.5,167.3 L863.8,168.4 L866.0,169.5 L868.3,170.6 L870.6,171.7 L872.9,172.7 L875.2,173.8 L877.5,174.8 L879.8,175.7 L882.2,176.7 L884.5,177.7 L886.8,178.6 L889.2,179.5 L891.6,180.4 L893.9,181.2 L896.3,182.1 L898.7,182.9 L901.1,183.7 L903.5,184.4 L905.9,185.2 L908.3,185.9 L910.8,186.6 L913.2,187.2 L915.6,187.9 L918.1,188.5 L920.5,189.1 L923.0,189.6 L925.5,190.2 L927.9,190.7 L930.4,191.2 L932.9,191.7 L935.4,192.1 L937.8,192.6 L940.3,193.0 L942.8,193.4 L945.3,193.8 L947.8,194.2 L950.3,194.6 L952.8,194.9 L955.3,195.2 L957.8,195.6 L960.3,195.9 L962.8,196.2 L965.3,196.5 L967.8,196.7 L970.3,197.0 L972.8,197.3 L975.4,197.5 L977.9,197.7 L980.4,198.0 L982.9,198.2 L985.4,198.4 L987.9,198.6 L990.4,198.8 L993.0,199.0 L995.5,199.3 L998.0,199.5 L1000.5,199.7 L1003.0,199.8 L1005.5,200.0 L1008.0,200.2 L1010.6,200.4 L1013.1,200.6 L1015.6,200.8 L1018.1,201.0 L1020.6,201.2 L1023.1,201.5 L1025.6,201.7 L1028.2,201.9 L1030.7,202.1 L1033.2,202.3 L1035.7,202.6 L1038.2,202.8 L1040.7,203.1 L1043.2,203.3 L1045.7,203.6 L1048.2,203.9 L1050.7,204.2 L1053.2,204.5 L1055.7,204.8 L1058.3,205.1 L1060.7,205.5 L1063.2,205.8 L1065.7,206.2 L1068.2,206.6 L1070.7,207.0 L1073.2,207.5 L1075.7,208.0 L1078.1,208.5 L1080.6,209.1 L1083.0,209.7 L1085.5,210.5 L1087.9,211.2 L1090.2,212.1 L1092.6,213.0 L1094.9,214.0 L1097.2,215.1 L1099.4,216.3 L1101.6,217.6 L1103.7,218.9 L1105.8,220.4 L1107.8,221.9 L1109.8,223.4 L1111.7,225.0 L1113.7,226.6 L1115.6,228.3 L1117.5,229.9 L1119.4,231.6 L1121.2,233.3 L1123.1,235.0 L1125.0,236.7 L1126.8,238.4 L1128.7,240.1 L1130.6,241.7 L1132.5,243.4 L1134.4,245.0 L1136.4,246.6 L1138.3,248.2 L1140.3,249.8 L1142.3,251.4 L1144.3,253.0 L1146.3,254.5 L1148.3,256.0 L1150.3,257.5 L1152.4,258.9 L1154.4,260.4 L1156.5,261.8 L1158.6,263.2 L1160.8,264.6 L1162.9,265.9 L1165.1,267.2 L1167.2,268.5 L1169.4,269.7 L1171.6,270.9 L1173.8,272.2 L1176.1,273.3 L1178.3,274.5 L1180.6,275.6 L1182.8,276.8" stroke="#4b4a8f" stroke-width="1.90" fill="none" stroke-linecap="round" stroke-linejoin="round"/>
<path d="M714.6,274.2 L714.2,271.8 L713.9,269.3 L713.7,266.8 L713.6,264.2 L713.6,261.7 L713.7,259.2 L714.0,256.7 L714.3,254.2 L714.7,251.7 L715.2,249.3 L715.8,246.8 L716.6,244.4 L717.4,242.1 L718.3,239.7 L719.4,237.4 L720.5,235.2 L721.7,233.0 L723.0,230.8 L724.4,228.7 L725.9,226.7 L727.4,224.7 L729.1,222.8 L730.8,221.0 L732.6,219.2 L734.5,217.5 L736.4,215.9 L738.4,214.4 L740.5,212.9 L742.6,211.6 L744.8,210.3 L747.0,209.2 L749.3,208.1 L751.6,207.1 L753.9,206.2 L756.3,205.3 L758.7,204.5 L761.1,203.8 L763.5,203.2 L766.0,202.6 L768.4,202.1 L770.9,201.6 L773.4,201.1 L775.9,200.7 L778.3,200.4 L780.8,200.0 L783.3,199.7 L785.8,199.4 L788.3,199.1 L790.8,198.8 L793.3,198.6 L795.8,198.3 L798.3,198.0 L800.8,197.8 L803.3,197.5 L805.8,197.3 L808.3,197.0 L810.8,196.8 L813.4,196.6 L815.9,196.3 L818.4,196.1 L820.9,195.8 L823.4,195.6 L825.9,195.3 L828.4,195.1 L830.9,194.9 L833.4,194.6 L835.9,194.4 L838.4,194.1 L840.9,193.8 L843.4,193.6 L845.9,193.3 L848.4,193.0 L850.9,192.7 L853.4,192.5 L855.9,192.2 L858.4,191.8 L860.9,191.5 L863.4,191.2 L865.9,190.9 L868.4,190.5 L870.9,190.2 L873.3,189.8 L875.8,189.4 L878.3,189.0 L880.8,188.6 L883.3,188.2 L885.8,187.8 L888.2,187.3 L890.7,186.8 L893.2,186.4 L895.6,185.9 L898.1,185.3 L900.6,184.8 L903.0,184.3 L905.5,183.7 L907.9,183.1 L910.3,182.5 L912.8,181.8 L915.2,181.2 L917.6,180.5 L920.1,179.8 L922.5,179.1 L924.9,178.3 L927.3,177.6 L929.6,176.8 L932.0,175.9 L934.4,175.1 L936.8,174.2 L939.1,173.3 L941.4,172.4 L943.8,171.4 L946.1,170.5 L948.4,169.5 L950.7,168.4 L953.0,167.4 L955.2,166.3 L957.5,165.2 L959.7,164.0 L962.0,162.9 L964.2,161.7 L966.4,160.5 L968.6,159.3 L970.8,158.1 L973.0,156.9 L975.2,155.7 L977.4,154.4 L979.6,153.2 L981.8,151.9 L984.0,150.7 L986.2,149.4 L988.3,148.2 L990.5,146.9 L992.7,145.6 L994.9,144.4 L997.0,143.1 L999.2,141.9 L1001.4,140.6 L1003.6,139.4 L1005.8,138.2 L1008.0,137.0 L1010.2,135.8 L1012.4,134.6 L1014.7,133.4 L1016.9,132.3 L1019.2,131.1 L1021.4,130.0 L1023.7,129.0 L1026.0,127.9 L1028.3,126.9 L1030.6,125.8 L1032.9,124.9 L1035.2,123.9 L1037.5,122.9 L1039.9,122.0 L1042.2,121.1 L1044.6,120.2 L1046.9,119.3 L1049.3,118.4 L1051.6,117.5 L1054.0,116.7 L1056.4,115.8 L1058.7,114.9 L1061.1,114.1 L1063.4,113.2 L1065.8,112.4 L1068.2,111.5 L1070.5,110.6 L1072.9,109.8 L1075.2,108.9 L1077.6,108.0 L1079.9,107.1 L1082.3,106.1 L1084.6,105.2 L1086.9,104.2 L1089.3,103.2 L1091.6,102.2 L1093.9,101.2 L1096.2,100.2 L1098.4,99.1 L1100.7,98.1 L1103.0,97.0 L1105.2,95.9 L1107.5,94.8 L1109.8,93.6 L1112.0,92.5 L1114.2,91.4 L1116.5,90.2 L1118.7,89.0 L1120.9,87.9 L1123.2,86.7 L1125.4,85.5 L1127.6,84.3 L1129.8,83.2 L1132.0,82.0 L1134.3,80.8 L1136.5,79.6 L1138.7,78.4 L1140.9,77.2 L1143.1,76.0 L1145.3,74.8 L1147.6,73.6 L1149.8,72.5 L1152.0,71.3 L1154.2,70.1 L1156.5,69.0 L1158.7,67.8 L1160.9,66.7 L1163.2,65.5 L1165.4,64.4 L1167.7,63.3 L1170.0,62.2 L1172.2,61.1 L1174.5,60.0 L1176.8,59.0 L1179.1,57.9 L1181.4,56.9 L1183.7,55.9 L1186.0,54.9 L1188.3,54.0 L1190.7,53.1 L1193.0,52.1 L1195.4,51.2 L1197.7,50.4 L1200.1,49.5 L1202.5,48.7 L1204.9,48.0 L1207.3,47.2 L1209.7,46.5" stroke="#448762" stroke-width="1.90" fill="none" stroke-linecap="round" stroke-linejoin="round"/>
<path d="M714.0,273.6 L714.0,271.1 L714.1,268.6 L714.1,266.0 L714.1,263.5 L714.1,261.0 L714.2,258.5 L714.3,256.0 L714.4,253.5 L714.6,250.9 L714.8,248.4 L715.1,245.9 L715.5,243.4 L716.0,241.0 L716.5,238.5 L717.2,236.1 L717.9,233.7 L718.8,231.3 L719.9,229.0 L721.1,226.8 L722.4,224.7 L724.0,222.7 L725.6,220.8 L727.5,219.1 L729.4,217.5 L731.4,216.0 L733.5,214.6 L735.7,213.3 L737.9,212.1 L740.2,211.0 L742.5,209.9 L744.8,208.9 L747.1,208.0 L749.5,207.1 L751.9,206.3 L754.3,205.6 L756.7,204.9 L759.1,204.2 L761.6,203.6 L764.0,203.1 L766.5,202.6 L769.0,202.1 L771.5,201.7 L774.0,201.3 L776.4,200.9 L778.9,200.5 L781.4,200.2 L783.9,199.9 L786.4,199.6 L788.9,199.3 L791.5,199.1 L794.0,198.8 L796.5,198.5 L799.0,198.3 L801.5,198.0 L804.0,197.8 L806.5,197.5 L809.0,197.3 L811.5,197.1 L814.0,196.8 L816.5,196.6 L819.0,196.3 L821.5,196.1 L824.0,195.8 L826.6,195.6 L829.1,195.3 L831.6,195.1 L834.1,194.8 L836.6,194.6 L839.1,194.3 L841.6,194.0 L844.1,193.8 L846.6,193.5 L849.1,193.2 L851.6,192.9 L854.1,192.6 L856.6,192.3 L859.1,191.9 L861.6,191.6 L864.1,191.3 L866.6,190.9 L869.1,190.5 L871.6,190.1 L874.1,189.8 L876.6,189.3 L879.0,188.9 L881.5,188.5 L884.0,188.0 L886.5,187.6 L888.9,187.1 L891.4,186.6 L893.9,186.1 L896.3,185.5 L898.8,185.0 L901.3,184.4 L903.7,183.8 L906.2,183.2 L908.6,182.6 L911.0,181.9 L913.5,181.2 L915.9,180.5 L918.3,179.8 L920.7,179.1 L923.1,178.3 L925.5,177.5 L927.9,176.7 L930.2,175.8 L932.6,175.0 L935.0,174.1 L937.3,173.1 L939.6,172.2 L941.9,171.2 L944.3,170.2 L946.6,169.1 L948.8,168.1 L951.1,167.0 L953.4,165.8 L955.6,164.7 L957.8,163.5 L960.0,162.3 L962.2,161.1 L964.4,159.9 L966.6,158.6 L968.8,157.3 L971.0,156.1 L973.1,154.8 L975.3,153.5 L977.4,152.2 L979.6,150.8 L981.7,149.5 L983.9,148.2 L986.0,146.8 L988.2,145.5 L990.3,144.2 L992.4,142.9 L994.6,141.5 L996.7,140.2 L998.9,138.9 L1001.0,137.6 L1003.2,136.3 L1005.4,135.0 L1007.5,133.8 L1009.7,132.5 L1011.9,131.3 L1014.1,130.1 L1016.4,128.9 L1018.6,127.7 L1020.8,126.5 L1023.1,125.4 L1025.3,124.3 L1027.6,123.2 L1029.9,122.2 L1032.2,121.2 L1034.6,120.2 L1036.9,119.2 L1039.2,118.3 L1041.6,117.4 L1043.9,116.4 L1046.3,115.5 L1048.6,114.7 L1051.0,113.8 L1053.3,112.9 L1055.7,112.0 L1058.1,111.2 L1060.4,110.3 L1062.8,109.4 L1065.2,108.5 L1067.5,107.7 L1069.9,106.8 L1072.2,105.9 L1074.6,105.0 L1076.9,104.0 L1079.3,103.1 L1081.6,102.1 L1083.9,101.1 L1086.2,100.1 L1088.5,99.1 L1090.8,98.0 L1093.1,96.9 L1095.3,95.8 L1097.6,94.7 L1099.8,93.5 L1102.0,92.4 L1104.3,91.2 L1106.5,90.0 L1108.7,88.8 L1110.9,87.5 L1113.1,86.3 L1115.3,85.1 L1117.5,83.8 L1119.7,82.6 L1121.9,81.3 L1124.0,80.1 L1126.2,78.8 L1128.4,77.6 L1130.6,76.3 L1132.8,75.1 L1135.0,73.8 L1137.2,72.6 L1139.4,71.4 L1141.6,70.2 L1143.8,68.9 L1146.0,67.8 L1148.3,66.6 L1150.5,65.4 L1152.7,64.3 L1155.0,63.2 L1157.3,62.1 L1159.5,61.0 L1161.8,59.9 L1164.1,58.9 L1166.5,57.9 L1168.8,57.0 L1171.1,56.0 L1173.5,55.1 L1175.9,54.3 L1178.2,53.5 L1180.6,52.7 L1183.0,51.9 L1185.5,51.3 L1187.9,50.6 L1190.3,50.0 L1192.8,49.5 L1195.3,49.0 L1197.8,48.5 L1200.2,48.1 L1202.7,47.8 L1205.2,47.5 L1207.8,47.3 L1210.3,47.1 L1212.8,47.0 L1215.3,46.9" stroke="#b3689f" stroke-width="1.90" fill="none" stroke-linecap="round" stroke-linejoin="round"/>
<path d="M713.7,158.6 L714.0,156.1 L714.4,153.6 L714.7,151.1 L715.1,148.6 L715.5,146.1 L715.9,143.6 L716.3,141.1 L716.7,138.7 L717.1,136.2 L717.6,133.7 L718.0,131.2 L718.4,128.8 L718.8,126.3 L719.3,123.8 L719.7,121.3 L720.1,118.8 L720.5,116.4 L721.0,113.9 L721.4,111.4 L721.7,108.9 L722.1,106.4 L722.5,103.9 L722.8,101.5 L723.2,99.0 L723.5,96.5 L723.9,94.0 L724.3,91.5 L724.8,89.0 L725.4,86.6 L726.1,84.2 L727.0,81.8 L728.0,79.5 L729.3,77.4 L730.8,75.4 L732.5,73.5 L734.4,71.8 L736.5,70.4 L738.7,69.2 L741.0,68.2 L743.3,67.3 L745.7,66.6 L748.2,66.0 L750.6,65.5 L753.1,65.0 L755.6,64.7 L758.1,64.4 L760.6,64.2 L763.1,64.0 L765.6,63.9 L768.1,63.8 L770.6,63.7 L773.2,63.7 L775.7,63.7 L778.2,63.7 L780.7,63.8 L783.2,63.8 L785.7,63.8 L788.2,63.9 L790.8,63.9 L793.3,63.9 L795.8,64.0 L798.3,64.0 L800.8,64.0 L803.3,64.1 L805.8,64.1 L808.4,64.1 L810.9,64.1 L813.4,64.1 L815.9,64.2 L818.4,64.2 L820.9,64.2 L823.4,64.2 L826.0,64.2 L828.5,64.2 L831.0,64.2 L833.5,64.2 L836.0,64.2 L838.5,64.2 L841.0,64.2 L843.6,64.2 L846.1,64.2 L848.6,64.2 L851.1,64.2 L853.6,64.2 L856.1,64.2 L858.6,64.2 L861.2,64.2 L863.7,64.2 L866.2,64.2 L868.7,64.2 L871.2,64.2 L873.7,64.2 L876.3,64.2 L878.8,64.2 L881.3,64.1 L883.8,64.1 L886.3,64.1 L888.8,64.1 L891.3,64.1 L893.9,64.1 L896.4,64.0 L898.9,64.0 L901.4,64.0 L903.9,64.0 L906.4,64.0 L908.9,63.9 L911.5,63.9 L914.0,63.9 L916.5,63.9 L919.0,63.8 L921.5,63.8 L924.0,63.8 L926.5,63.8 L929.1,63.7 L931.6,63.7 L934.1,63.7 L936.6,63.6 L939.1,63.6 L941.6,63.6 L944.1,63.6 L946.7,63.5 L949.2,63.5 L951.7,63.5 L954.2,63.4 L956.7,63.4 L959.2,63.4 L961.7,63.3 L964.3,63.3 L966.8,63.3 L969.3,63.2 L971.8,63.2 L974.3,63.2 L976.8,63.1 L979.3,63.1 L981.9,63.1 L984.4,63.0 L986.9,63.0 L989.4,63.0 L991.9,62.9 L994.4,62.9 L996.9,62.8 L999.5,62.8 L1002.0,62.7 L1004.5,62.7 L1007.0,62.6 L1009.5,62.6 L1012.0,62.6 L1014.5,62.5 L1017.1,62.5 L1019.6,62.4 L1022.1,62.3 L1024.6,62.3 L1027.1,62.2 L1029.6,62.2 L1032.1,62.1 L1034.7,62.1 L1037.2,62.0 L1039.7,61.9 L1042.2,61.9 L1044.7,61.8 L1047.2,61.7 L1049.7,61.6 L1052.2,61.6 L1054.8,61.5 L1057.3,61.4 L1059.8,61.3 L1062.3,61.3 L1064.8,61.2 L1067.3,61.1 L1069.8,61.0 L1072.4,60.9 L1074.9,60.8 L1077.4,60.7 L1079.9,60.6 L1082.4,60.5 L1084.9,60.4 L1087.4,60.3 L1089.9,60.2 L1092.5,60.1 L1095.0,60.0 L1097.5,59.9 L1100.0,59.8 L1102.5,59.7 L1105.0,59.5 L1107.5,59.4 L1110.0,59.3 L1112.5,59.2 L1115.1,59.0 L1117.6,58.9 L1120.1,58.7 L1122.6,58.6 L1125.1,58.5 L1127.6,58.3 L1130.1,58.2 L1132.6,58.0 L1135.1,57.8 L1137.6,57.7 L1140.2,57.5 L1142.7,57.4 L1145.2,57.2 L1147.7,57.0 L1150.2,56.8 L1152.7,56.7 L1155.2,56.5 L1157.7,56.3 L1160.2,56.1 L1162.7,55.8 L1165.2,55.6 L1167.7,55.3 L1170.2,55.0 L1172.7,54.6 L1175.2,54.3 L1177.7,53.8 L1180.2,53.4 L1182.6,52.9 L1185.1,52.5 L1187.6,52.0 L1190.0,51.5 L1192.5,51.0 L1195.0,50.5 L1197.4,50.1 L1199.9,49.6 L1202.4,49.2 L1204.9,48.9 L1207.4,48.6 L1209.9,48.3 L1212.4,48.0 L1214.9,47.8 L1217.4,47.5 L1219.9,47.3 L1222.4,47.2 L1224.9,47.0 L1227.4,46.9 L1229.9,46.7 L1232.4,46.6 L1235.0,46.5 L1237.5,46.3 L1240.0,46.2 L1242.5,46.1 L1245.0,46.0" stroke="#4b4a8f" stroke-width="1.90" fill="none" stroke-linecap="round" stroke-linejoin="round"/>
<text class="l" x="812.9" y="56.0" textLength="21.8" lengthAdjust="spacingAndGlyphs">1st</text>
<text class="l" x="1052.5" y="87.2" textLength="25.0" lengthAdjust="spacingAndGlyphs">2nd</text>
<text class="l" x="1129.5" y="104.0" textLength="22.5" lengthAdjust="spacingAndGlyphs">3rd</text>
<text class="l" x="1142.5" y="226.5" textLength="21.2" lengthAdjust="spacingAndGlyphs">1st</text>
<text class="l" x="1110.0" y="272.2" textLength="22.5" lengthAdjust="spacingAndGlyphs">3rd</text>
<text class="l" x="1157.5" y="288.5" textLength="25.5" lengthAdjust="spacingAndGlyphs">2nd</text>
<text class="l" x="1197.5" y="276.0" textLength="58.8" lengthAdjust="spacingAndGlyphs">10mA/g</text>
<rect x="59.40" y="392.75" width="554.60" height="269.35" fill="none" stroke="#2a2a2a" stroke-width="2.6"/>
<path d="M59.40,620.01h6.5 M59.40,577.93h6.5 M59.40,535.84h6.5 M59.40,493.76h6.5 M59.40,451.67h6.5 M59.40,409.58h6.5 M151.83,662.10v-6 M244.27,662.10v-6 M336.70,662.10v-6 M429.13,662.10v-6 M521.57,662.10v-6" stroke="#2a2a2a" stroke-width="2" fill="none"/>
<text class="n" x="46.4" y="668.0" text-anchor="end" textLength="21.0" lengthAdjust="spacingAndGlyphs">1.8</text>
<text class="n" x="46.4" y="625.9" text-anchor="end" textLength="21.0" lengthAdjust="spacingAndGlyphs">2.3</text>
<text class="n" x="46.4" y="583.8" text-anchor="end" textLength="21.0" lengthAdjust="spacingAndGlyphs">2.8</text>
<text class="n" x="46.4" y="541.7" text-anchor="end" textLength="21.0" lengthAdjust="spacingAndGlyphs">3.3</text>
<text class="n" x="46.4" y="499.7" text-anchor="end" textLength="21.0" lengthAdjust="spacingAndGlyphs">3.8</text>
<text class="n" x="46.4" y="457.6" text-anchor="end" textLength="21.0" lengthAdjust="spacingAndGlyphs">4.3</text>
<text class="n" x="46.4" y="415.5" text-anchor="end" textLength="21.0" lengthAdjust="spacingAndGlyphs">4.8</text>
<text class="n" x="59.4" y="690.5" text-anchor="middle">0</text>
<text class="n" x="151.8" y="690.5" text-anchor="middle" textLength="17.5" lengthAdjust="spacingAndGlyphs">50</text>
<text class="n" x="244.3" y="690.5" text-anchor="middle" textLength="26.5" lengthAdjust="spacingAndGlyphs">100</text>
<text class="n" x="336.7" y="690.5" text-anchor="middle" textLength="26.5" lengthAdjust="spacingAndGlyphs">150</text>
<text class="n" x="429.1" y="690.5" text-anchor="middle" textLength="26.5" lengthAdjust="spacingAndGlyphs">200</text>
<text class="n" x="521.6" y="690.5" text-anchor="middle" textLength="26.5" lengthAdjust="spacingAndGlyphs">250</text>
<text class="n" x="614.0" y="690.5" text-anchor="middle" textLength="26.5" lengthAdjust="spacingAndGlyphs">300</text>
<text class="t" x="62.1" y="382.9" textLength="93.4" lengthAdjust="spacingAndGlyphs">(6A) 6 hours</text>
<text class="ax" x="270.4" y="714.5" textLength="132.2" lengthAdjust="spacingAndGlyphs">Capacity (mAh/g)</text>
<text class="t" transform="translate(14.2,613.5) rotate(-90)" x="0" y="0" textLength="172.5" lengthAdjust="spacingAndGlyphs">Potential (V vs. Li/Li+)</text>
<path d="M58.7,431.4 L59.5,433.7 L60.5,436.1 L61.6,438.4 L62.7,440.6 L64.0,442.7 L65.4,444.8 L66.9,446.9 L68.5,448.8 L70.1,450.7 L71.9,452.6 L73.6,454.4 L75.5,456.1 L77.4,457.7 L79.3,459.3 L81.3,460.9 L83.3,462.4 L85.4,463.9 L87.4,465.3 L89.5,466.7 L91.6,468.1 L93.7,469.5 L95.9,470.8 L98.0,472.1 L100.2,473.4 L102.4,474.7 L104.5,476.0 L106.7,477.2 L108.9,478.5 L111.1,479.7 L113.3,481.0 L115.5,482.2 L117.7,483.5 L119.8,484.8 L122.0,486.0 L124.2,487.3 L126.3,488.6 L128.5,490.0 L130.6,491.3 L132.7,492.6 L134.9,494.0 L137.0,495.3 L139.1,496.7 L141.3,498.0 L143.4,499.4 L145.5,500.7 L147.6,502.0 L149.8,503.4 L151.9,504.7 L154.1,506.0 L156.2,507.4 L158.4,508.7 L160.5,510.0 L162.7,511.2 L164.9,512.5 L167.1,513.7 L169.3,514.9 L171.5,516.1 L173.7,517.3 L176.0,518.4 L178.3,519.5 L180.5,520.6 L182.8,521.7 L185.1,522.7 L187.4,523.8 L189.7,524.8 L192.0,525.7 L194.4,526.7 L196.7,527.7 L199.0,528.6 L201.4,529.5 L203.7,530.4 L206.1,531.4 L208.4,532.2 L210.8,533.1 L213.1,534.0 L215.5,534.9 L217.9,535.7 L220.2,536.6 L222.6,537.4 L225.0,538.3 L227.4,539.1 L229.7,539.9 L232.1,540.8 L234.5,541.6 L236.9,542.4 L239.3,543.2 L241.7,543.9 L244.1,544.7 L246.5,545.5 L248.9,546.2 L251.3,547.0 L253.7,547.7 L256.1,548.5 L258.5,549.2 L260.9,549.9 L263.4,550.6 L265.8,551.3 L268.2,552.0 L270.6,552.7 L273.1,553.4 L275.5,554.1 L277.9,554.7 L280.3,555.4 L282.8,556.0 L285.2,556.6 L287.7,557.3 L290.1,557.9 L292.5,558.5 L295.0,559.1 L297.4,559.7 L299.9,560.3 L302.3,560.8 L304.8,561.4 L307.3,562.0 L309.7,562.6 L312.2,563.1 L314.6,563.7 L317.1,564.3 L319.5,564.8 L322.0,565.4 L324.4,566.0 L326.9,566.6 L329.3,567.2 L331.8,567.8 L334.2,568.5 L336.6,569.1 L339.1,569.8 L341.5,570.4 L343.9,571.1 L346.3,571.9 L348.7,572.6 L351.1,573.3 L353.5,574.1 L355.9,574.9 L358.3,575.8 L360.7,576.6 L363.0,577.5 L365.4,578.5 L367.7,579.4 L370.0,580.4 L372.3,581.4 L374.6,582.5 L376.9,583.5 L379.1,584.6 L381.4,585.8 L383.6,586.9 L385.9,588.1 L388.1,589.4 L390.3,590.6 L392.4,591.9 L394.6,593.2 L396.7,594.5 L398.9,595.8 L401.0,597.2 L403.1,598.6 L405.2,600.0 L407.3,601.4 L409.3,602.9 L411.4,604.3 L413.4,605.8 L415.4,607.3 L417.4,608.8 L419.4,610.4 L421.4,612.0 L423.3,613.5 L425.3,615.1 L427.2,616.7 L429.2,618.4 L431.1,620.0 L433.0,621.7 L434.8,623.3 L436.7,625.0 L438.6,626.7 L440.4,628.4 L442.3,630.2 L444.1,631.9 L445.9,633.7 L447.7,635.4 L449.5,637.2 L451.3,639.0 L453.0,640.8 L454.8,642.6" stroke="#448762" stroke-width="1.90" fill="none" stroke-linecap="round" stroke-linejoin="round"/>
<path d="M58.5,441.8 L60.0,443.8 L61.5,445.8 L63.1,447.8 L64.8,449.7 L66.5,451.6 L68.2,453.4 L70.0,455.2 L71.8,457.0 L73.6,458.7 L75.4,460.5 L77.3,462.1 L79.2,463.8 L81.1,465.5 L83.1,467.1 L85.0,468.7 L86.9,470.3 L88.9,471.9 L90.9,473.5 L92.8,475.1 L94.8,476.6 L96.8,478.2 L98.8,479.8 L100.7,481.4 L102.7,482.9 L104.7,484.5 L106.7,486.1 L108.6,487.6 L110.6,489.2 L112.6,490.7 L114.6,492.3 L116.6,493.8 L118.7,495.3 L120.7,496.8 L122.7,498.3 L124.8,499.8 L126.8,501.3 L128.9,502.7 L131.0,504.2 L133.0,505.6 L135.1,507.0 L137.3,508.4 L139.4,509.7 L141.5,511.1 L143.7,512.4 L145.8,513.7 L148.0,515.0 L150.2,516.3 L152.4,517.5 L154.6,518.8 L156.8,520.0 L159.0,521.2 L161.3,522.3 L163.5,523.5 L165.8,524.6 L168.0,525.8 L170.3,526.9 L172.6,527.9 L174.9,529.0 L177.1,530.1 L179.4,531.1 L181.8,532.1 L184.1,533.1 L186.4,534.1 L188.7,535.1 L191.1,536.0 L193.4,537.0 L195.8,537.9 L198.1,538.8 L200.5,539.7 L202.9,540.5 L205.2,541.4 L207.6,542.2 L210.0,543.1 L212.4,543.9 L214.8,544.7 L217.2,545.5 L219.6,546.3 L222.0,547.0 L224.4,547.8 L226.8,548.5 L229.2,549.2 L231.6,550.0 L234.1,550.7 L236.5,551.4 L238.9,552.0 L241.4,552.7 L243.8,553.4 L246.2,554.1 L248.7,554.7 L251.1,555.4 L253.5,556.0 L256.0,556.7 L258.4,557.3 L260.9,557.9 L263.3,558.6 L265.8,559.2 L268.2,559.8 L270.7,560.4 L273.1,561.0 L275.6,561.6 L278.0,562.3 L280.5,562.9 L282.9,563.5 L285.4,564.1 L287.8,564.7 L290.3,565.3 L292.7,566.0 L295.1,566.6 L297.6,567.2 L300.0,567.8 L302.5,568.5 L304.9,569.1 L307.4,569.8 L309.8,570.4 L312.2,571.1 L314.7,571.8 L317.1,572.5 L319.5,573.2 L321.9,574.0 L324.3,574.7 L326.7,575.5 L329.1,576.3 L331.5,577.2 L333.9,578.1 L336.2,579.0 L338.6,579.9 L340.9,580.8 L343.2,581.8 L345.5,582.9 L347.8,583.9 L350.1,585.1 L352.3,586.2 L354.6,587.4 L356.8,588.6 L358.9,589.9 L361.1,591.2 L363.3,592.5 L365.4,593.9 L367.5,595.2 L369.6,596.7 L371.7,598.1 L373.7,599.6 L375.7,601.1 L377.8,602.6 L379.8,604.1 L381.7,605.7 L383.7,607.3 L385.7,608.9 L387.6,610.5 L389.5,612.1 L391.4,613.8 L393.3,615.5 L395.2,617.1 L397.1,618.8 L398.9,620.5 L400.8,622.2 L402.6,624.0 L404.5,625.7 L406.3,627.5 L408.1,629.2 L409.9,631.0 L411.7,632.7 L413.5,634.5 L415.3,636.3 L417.1,638.1 L418.9,639.9 L420.7,641.6 L422.5,643.4" stroke="#b3689f" stroke-width="1.90" fill="none" stroke-linecap="round" stroke-linejoin="round"/>
<path d="M59.7,444.4 L60.2,446.8 L60.8,449.3 L61.4,451.7 L62.1,454.2 L62.9,456.6 L63.7,459.0 L64.5,461.3 L65.4,463.7 L66.3,466.0 L67.3,468.4 L68.3,470.7 L69.4,472.9 L70.5,475.2 L71.7,477.4 L72.9,479.6 L74.2,481.8 L75.5,484.0 L76.8,486.1 L78.2,488.2 L79.6,490.3 L81.1,492.4 L82.6,494.4 L84.1,496.4 L85.7,498.3 L87.3,500.3 L89.0,502.2 L90.6,504.1 L92.4,505.9 L94.1,507.7 L95.9,509.5 L97.7,511.3 L99.5,513.0 L101.4,514.7 L103.3,516.4 L105.2,518.0 L107.1,519.6 L109.1,521.2 L111.1,522.7 L113.1,524.2 L115.2,525.7 L117.3,527.1 L119.3,528.5 L121.5,529.9 L123.6,531.3 L125.7,532.6 L127.9,533.9 L130.1,535.1 L132.3,536.3 L134.5,537.5 L136.8,538.7 L139.0,539.8 L141.3,540.9 L143.6,541.9 L145.9,543.0 L148.2,543.9 L150.5,544.9 L152.9,545.8 L155.2,546.7 L157.6,547.6 L160.0,548.4 L162.4,549.2 L164.8,550.0 L167.2,550.7 L169.6,551.4 L172.0,552.1 L174.5,552.7 L176.9,553.3 L179.4,553.8 L181.9,554.4 L184.3,554.9 L186.8,555.4 L189.3,555.9 L191.7,556.4 L194.2,556.8 L196.7,557.3 L199.2,557.7 L201.7,558.2 L204.1,558.6 L206.6,559.1 L209.1,559.5 L211.6,560.0 L214.0,560.5 L216.5,561.0 L219.0,561.6 L221.4,562.1 L223.9,562.7 L226.3,563.3 L228.8,564.0 L231.2,564.6 L233.6,565.3 L236.1,565.9 L238.5,566.6 L240.9,567.3 L243.3,568.1 L245.7,568.8 L248.2,569.5 L250.6,570.2 L253.0,570.9 L255.4,571.7 L257.8,572.4 L260.2,573.1 L262.6,573.8 L265.1,574.5 L267.5,575.3 L269.9,576.1 L272.3,576.8 L274.6,577.7 L277.0,578.6 L279.3,579.5 L281.7,580.5 L283.9,581.6 L286.2,582.6 L288.5,583.8 L290.7,585.0 L292.9,586.2 L295.1,587.5 L297.2,588.8 L299.4,590.1 L301.5,591.5 L303.5,592.9 L305.6,594.4 L307.7,595.8 L309.7,597.3 L311.7,598.9 L313.7,600.4 L315.6,602.0 L317.6,603.6 L319.5,605.2 L321.5,606.8 L323.4,608.5 L325.3,610.1 L327.2,611.8 L329.1,613.5 L330.9,615.1 L332.8,616.8 L334.7,618.5 L336.5,620.2 L338.4,621.9 L340.2,623.7 L342.1,625.4 L343.9,627.1 L345.8,628.8 L347.6,630.5 L349.5,632.2 L351.3,633.9 L353.2,635.6 L355.1,637.3 L356.9,639.0 L358.8,640.7 L360.7,642.3 L362.6,644.0 L364.6,645.6" stroke="#4b4a8f" stroke-width="1.90" fill="none" stroke-linecap="round" stroke-linejoin="round"/>
<path d="M60.1,617.6 L60.7,615.2 L61.4,612.7 L62.1,610.3 L62.9,607.9 L63.7,605.5 L64.6,603.2 L65.5,600.8 L66.5,598.5 L67.6,596.2 L68.7,594.0 L69.9,591.8 L71.1,589.6 L72.5,587.4 L73.8,585.3 L75.3,583.3 L76.8,581.3 L78.5,579.3 L80.1,577.5 L81.9,575.6 L83.7,573.9 L85.6,572.2 L87.6,570.7 L89.6,569.1 L91.7,567.7 L93.8,566.4 L95.9,565.1 L98.2,563.8 L100.4,562.7 L102.7,561.6 L105.0,560.6 L107.3,559.6 L109.7,558.7 L112.0,557.9 L114.4,557.1 L116.8,556.3 L119.2,555.6 L121.7,554.9 L124.1,554.2 L126.5,553.5 L128.9,552.8 L131.4,552.1 L133.8,551.4 L136.2,550.7 L138.6,549.9 L141.0,549.2 L143.4,548.4 L145.8,547.5 L148.2,546.7 L150.5,545.8 L152.9,545.0 L155.2,544.1 L157.6,543.2 L159.9,542.2 L162.3,541.3 L164.6,540.3 L166.9,539.4 L169.3,538.4 L171.6,537.4 L173.9,536.4 L176.2,535.5 L178.6,534.5 L180.9,533.5 L183.2,532.5 L185.5,531.5 L187.8,530.5 L190.2,529.6 L192.5,528.6 L194.8,527.6 L197.1,526.6 L199.4,525.6 L201.8,524.6 L204.1,523.7 L206.4,522.7 L208.7,521.7 L211.1,520.7 L213.4,519.8 L215.7,518.8 L218.0,517.8 L220.4,516.9 L222.7,515.9 L225.0,514.9 L227.3,514.0 L229.7,513.0 L232.0,512.0 L234.3,511.1 L236.7,510.1 L239.0,509.2 L241.3,508.2 L243.7,507.2 L246.0,506.3 L248.3,505.4 L250.7,504.4 L253.0,503.5 L255.3,502.5 L257.7,501.6 L260.0,500.6 L262.4,499.7 L264.7,498.8 L267.1,497.8 L269.4,496.9 L271.7,496.0 L274.1,495.1 L276.4,494.1 L278.8,493.2 L281.1,492.3 L283.5,491.4 L285.8,490.5 L288.2,489.6 L290.5,488.7 L292.9,487.8 L295.2,486.9 L297.6,486.0 L300.0,485.1 L302.3,484.2 L304.7,483.3 L307.0,482.4 L309.4,481.5 L311.8,480.6 L314.1,479.8 L316.5,478.9 L318.8,478.0 L321.2,477.2 L323.6,476.3 L326.0,475.4 L328.3,474.6 L330.7,473.7 L333.1,472.9 L335.5,472.1 L337.8,471.2 L340.2,470.4 L342.6,469.5 L345.0,468.7 L347.3,467.9 L349.7,467.1 L352.1,466.2 L354.5,465.4 L356.9,464.6 L359.3,463.8 L361.6,463.0 L364.0,462.1 L366.4,461.3 L368.8,460.5 L371.2,459.7 L373.6,458.8 L375.9,458.0 L378.3,457.2 L380.7,456.3 L383.1,455.5 L385.4,454.6 L387.8,453.8 L390.2,452.9 L392.5,452.1 L394.9,451.2 L397.3,450.3 L399.6,449.4 L402.0,448.5 L404.3,447.6 L406.7,446.6 L409.0,445.7 L411.3,444.8 L413.7,443.8 L416.0,442.8 L418.3,441.9 L420.6,440.9 L423.0,439.8 L425.3,438.8 L427.6,437.8 L429.8,436.7 L432.1,435.7 L434.4,434.6 L436.7,433.5 L439.0,432.4 L441.2,431.4 L443.5,430.3 L445.8,429.2 L448.1,428.1 L450.4,427.1 L452.6,426.0 L454.9,424.9 L457.2,423.9 L459.5,422.9 L461.8,421.9 L464.2,420.9 L466.5,419.9 L468.8,418.9 L471.2,418.0 L473.5,417.1 L475.9,416.2 L478.3,415.4 L480.6,414.6 L483.0,413.8 L485.5,413.1 L487.9,412.4 L490.3,411.7 L492.8,411.1 L495.2,410.6 L497.7,410.0 L500.2,409.6 L502.6,409.2 L505.1,408.8" stroke="#448762" stroke-width="1.90" fill="none" stroke-linecap="round" stroke-linejoin="round"/>
<path d="M60.2,617.9 L60.7,615.4 L61.3,613.0 L61.9,610.6 L62.6,608.1 L63.3,605.7 L64.2,603.4 L65.1,601.0 L66.1,598.7 L67.2,596.4 L68.3,594.2 L69.5,592.0 L70.8,589.8 L72.2,587.7 L73.6,585.6 L75.1,583.6 L76.6,581.7 L78.3,579.7 L80.0,577.9 L81.7,576.1 L83.5,574.3 L85.4,572.6 L87.3,571.0 L89.2,569.4 L91.2,567.9 L93.3,566.4 L95.4,565.0 L97.5,563.7 L99.7,562.4 L101.8,561.1 L104.0,559.9 L106.3,558.8 L108.5,557.6 L110.8,556.6 L113.1,555.5 L115.4,554.5 L117.7,553.6 L120.1,552.6 L122.4,551.7 L124.8,550.8 L127.1,549.9 L129.5,549.1 L131.8,548.2 L134.2,547.4 L136.6,546.5 L139.0,545.7 L141.3,544.9 L143.7,544.1 L146.1,543.3 L148.5,542.4 L150.8,541.6 L153.2,540.7 L155.6,539.8 L157.9,539.0 L160.3,538.0 L162.6,537.1 L164.9,536.1 L167.2,535.2 L169.6,534.2 L171.9,533.2 L174.2,532.1 L176.4,531.1 L178.7,530.1 L181.0,529.0 L183.3,528.0 L185.6,526.9 L187.9,525.8 L190.1,524.8 L192.4,523.7 L194.7,522.6 L197.0,521.6 L199.3,520.5 L201.6,519.5 L203.9,518.5 L206.2,517.4 L208.5,516.4 L210.8,515.4 L213.1,514.4 L215.4,513.4 L217.7,512.4 L220.0,511.5 L222.3,510.5 L224.7,509.5 L227.0,508.6 L229.3,507.6 L231.6,506.6 L234.0,505.7 L236.3,504.8 L238.6,503.8 L241.0,502.9 L243.3,502.0 L245.6,501.0 L248.0,500.1 L250.3,499.2 L252.7,498.3 L255.0,497.4 L257.4,496.5 L259.7,495.6 L262.1,494.7 L264.4,493.8 L266.8,492.9 L269.1,492.0 L271.5,491.1 L273.8,490.3 L276.2,489.4 L278.6,488.5 L280.9,487.6 L283.3,486.7 L285.6,485.9 L288.0,485.0 L290.3,484.1 L292.7,483.2 L295.1,482.3 L297.4,481.5 L299.8,480.6 L302.1,479.7 L304.5,478.8 L306.8,478.0 L309.2,477.1 L311.6,476.2 L313.9,475.3 L316.3,474.4 L318.6,473.5 L321.0,472.7 L323.3,471.8 L325.7,470.9 L328.0,470.0 L330.4,469.1 L332.7,468.2 L335.1,467.3 L337.4,466.4 L339.8,465.5 L342.1,464.5 L344.4,463.6 L346.8,462.7 L349.1,461.8 L351.5,460.8 L353.8,459.9 L356.1,459.0 L358.5,458.0 L360.8,457.1 L363.1,456.1 L365.4,455.1 L367.8,454.2 L370.1,453.2 L372.4,452.2 L374.7,451.2 L377.0,450.2 L379.3,449.2 L381.6,448.2 L383.9,447.2 L386.2,446.2 L388.5,445.1 L390.8,444.1 L393.1,443.1 L395.4,442.1 L397.7,441.0 L400.0,440.0 L402.3,439.0 L404.6,438.0 L406.9,436.9 L409.2,435.9 L411.5,434.9 L413.8,433.9 L416.1,432.9 L418.4,431.9 L420.7,430.9 L423.0,429.9 L425.4,428.9 L427.7,428.0 L430.0,427.0 L432.3,426.0 L434.7,425.1 L437.0,424.2 L439.4,423.3 L441.7,422.4 L444.1,421.5 L446.4,420.6 L448.8,419.8 L451.2,419.0 L453.5,418.1 L455.9,417.3 L458.3,416.6 L460.7,415.8 L463.1,415.1 L465.5,414.4 L468.0,413.7 L470.4,413.0 L472.8,412.4 L475.3,411.8 L477.7,411.2 L480.2,410.6 L482.6,410.1 L485.1,409.6 L487.5,409.1" stroke="#b3689f" stroke-width="1.90" fill="none" stroke-linecap="round" stroke-linejoin="round"/>
<path d="M59.3,502.0 L60.6,499.8 L61.9,497.5 L63.1,495.3 L64.4,493.0 L65.7,490.8 L67.0,488.6 L68.3,486.3 L69.6,484.1 L70.9,481.9 L72.3,479.7 L73.6,477.5 L75.0,475.3 L76.4,473.1 L77.8,470.9 L79.2,468.8 L80.6,466.6 L82.1,464.5 L83.6,462.4 L85.1,460.3 L86.6,458.2 L88.2,456.1 L89.7,454.1 L91.3,452.1 L93.0,450.1 L94.6,448.1 L96.3,446.1 L98.0,444.2 L99.8,442.3 L101.5,440.4 L103.3,438.6 L105.2,436.7 L107.1,435.0 L109.0,433.2 L110.9,431.5 L112.9,429.9 L114.9,428.2 L116.9,426.7 L119.0,425.1 L121.1,423.7 L123.3,422.2 L125.5,420.9 L127.7,419.5 L129.9,418.3 L132.2,417.1 L134.5,415.9 L136.9,414.8 L139.3,413.8 L141.7,412.9 L144.1,412.0 L146.5,411.2 L149.0,410.4 L151.5,409.7" stroke="#4b4a8f" stroke-width="1.90" fill="none" stroke-linecap="round" stroke-linejoin="round"/>
<text class="l" x="156.2" y="407.2" textLength="21.2" lengthAdjust="spacingAndGlyphs">1st</text>
<text class="l" x="447.0" y="406.5" textLength="25.0" lengthAdjust="spacingAndGlyphs">2nd</text>
<text class="l" x="511.2" y="406.5" textLength="22.5" lengthAdjust="spacingAndGlyphs">3rd</text>
<text class="l" x="324.4" y="649.0" textLength="20.0" lengthAdjust="spacingAndGlyphs">1st</text>
<text class="l" x="396.2" y="649.8" textLength="26.2" lengthAdjust="spacingAndGlyphs">2nd</text>
<text class="l" x="442.5" y="653.0" textLength="22.5" lengthAdjust="spacingAndGlyphs">3rd</text>
<text class="l" x="546.2" y="641.8" textLength="57.5" lengthAdjust="spacingAndGlyphs">10mA/g</text>
<rect x="707.50" y="395.60" width="553.10" height="266.00" fill="none" stroke="#2a2a2a" stroke-width="2.6"/>
<path d="M707.50,620.04h6.5 M707.50,578.48h6.5 M707.50,536.91h6.5 M707.50,495.35h6.5 M707.50,453.79h6.5 M707.50,412.23h6.5 M799.68,661.60v-6 M891.87,661.60v-6 M984.05,661.60v-6 M1076.23,661.60v-6 M1168.42,661.60v-6" stroke="#2a2a2a" stroke-width="2" fill="none"/>
<text class="n" x="694.5" y="667.5" text-anchor="end" textLength="21.0" lengthAdjust="spacingAndGlyphs">1.8</text>
<text class="n" x="694.5" y="625.9" text-anchor="end" textLength="21.0" lengthAdjust="spacingAndGlyphs">2.3</text>
<text class="n" x="694.5" y="584.4" text-anchor="end" textLength="21.0" lengthAdjust="spacingAndGlyphs">2.8</text>
<text class="n" x="694.5" y="542.8" text-anchor="end" textLength="21.0" lengthAdjust="spacingAndGlyphs">3.3</text>
<text class="n" x="694.5" y="501.2" text-anchor="end" textLength="21.0" lengthAdjust="spacingAndGlyphs">3.8</text>
<text class="n" x="694.5" y="459.7" text-anchor="end" textLength="21.0" lengthAdjust="spacingAndGlyphs">4.3</text>
<text class="n" x="694.5" y="418.1" text-anchor="end" textLength="21.0" lengthAdjust="spacingAndGlyphs">4.8</text>
<text class="n" x="707.5" y="690.0" text-anchor="middle">0</text>
<text class="n" x="799.7" y="690.0" text-anchor="middle" textLength="17.5" lengthAdjust="spacingAndGlyphs">50</text>
<text class="n" x="891.9" y="690.0" text-anchor="middle" textLength="26.5" lengthAdjust="spacingAndGlyphs">100</text>
<text class="n" x="984.0" y="690.0" text-anchor="middle" textLength="26.5" lengthAdjust="spacingAndGlyphs">150</text>
<text class="n" x="1076.2" y="690.0" text-anchor="middle" textLength="26.5" lengthAdjust="spacingAndGlyphs">200</text>
<text class="n" x="1168.4" y="690.0" text-anchor="middle" textLength="26.5" lengthAdjust="spacingAndGlyphs">250</text>
<text class="n" x="1260.6" y="690.0" text-anchor="middle" textLength="26.5" lengthAdjust="spacingAndGlyphs">300</text>
<text class="t" x="711.2" y="389.3" textLength="231.5" lengthAdjust="spacingAndGlyphs">(6AH) 6 hours + 300°C 5 hours</text>
<text class="ax" x="918.2" y="713.8" textLength="131.5" lengthAdjust="spacingAndGlyphs">Capacity (mAh/g)</text>
<text class="t" transform="translate(663.8,619.0) rotate(-90)" x="0" y="0" textLength="175.2" lengthAdjust="spacingAndGlyphs">Potential (V vs. Li/Li+)</text>
<path d="M707.1,425.3 L707.6,427.8 L708.2,430.2 L708.9,432.7 L709.7,435.0 L710.5,437.4 L711.5,439.7 L712.6,442.0 L713.8,444.2 L715.1,446.4 L716.4,448.5 L717.8,450.6 L719.3,452.6 L720.9,454.6 L722.5,456.5 L724.2,458.4 L725.9,460.2 L727.7,462.0 L729.5,463.8 L731.4,465.5 L733.3,467.1 L735.2,468.8 L737.1,470.4 L739.1,472.0 L741.1,473.5 L743.1,475.1 L745.1,476.6 L747.1,478.1 L749.1,479.6 L751.1,481.1 L753.2,482.6 L755.2,484.1 L757.2,485.6 L759.2,487.2 L761.2,488.7 L763.2,490.2 L765.1,491.8 L767.1,493.4 L769.0,495.0 L771.0,496.6 L772.9,498.3 L774.8,499.9 L776.7,501.6 L778.6,503.3 L780.4,504.9 L782.3,506.6 L784.2,508.3 L786.1,510.0 L787.9,511.7 L789.8,513.4 L791.7,515.1 L793.5,516.8 L795.4,518.4 L797.3,520.1 L799.2,521.8 L801.0,523.5 L802.9,525.1 L804.9,526.8 L806.8,528.4 L808.7,530.0 L810.6,531.6 L812.6,533.2 L814.6,534.8 L816.6,536.3 L818.6,537.9 L820.6,539.3 L822.7,540.8 L824.7,542.2 L826.8,543.6 L828.9,545.0 L831.1,546.3 L833.3,547.6 L835.5,548.8 L837.7,550.0 L839.9,551.1 L842.2,552.2 L844.5,553.3 L846.8,554.3 L849.1,555.3 L851.5,556.2 L853.8,557.2 L856.2,558.1 L858.5,558.9 L860.9,559.8 L863.3,560.6 L865.7,561.4 L868.1,562.2 L870.5,562.9 L872.9,563.7 L875.3,564.4 L877.7,565.1 L880.1,565.8 L882.5,566.5 L885.0,567.2 L887.4,567.9 L889.8,568.6 L892.2,569.3 L894.6,570.0 L897.0,570.8 L899.5,571.5 L901.9,572.2 L904.3,572.9 L906.7,573.6 L909.1,574.4 L911.5,575.1 L913.9,575.8 L916.3,576.6 L918.7,577.3 L921.1,578.1 L923.5,578.9 L925.9,579.6 L928.3,580.4 L930.7,581.2 L933.1,582.0 L935.5,582.8 L937.9,583.6 L940.3,584.5 L942.6,585.3 L945.0,586.2 L947.4,587.0 L949.7,587.9 L952.1,588.8 L954.5,589.7 L956.8,590.6 L959.1,591.5 L961.5,592.5 L963.8,593.4 L966.1,594.4 L968.5,595.4 L970.8,596.4 L973.1,597.4 L975.4,598.4 L977.7,599.4 L980.0,600.5 L982.3,601.5 L984.6,602.6 L986.8,603.6 L989.1,604.7 L991.4,605.8 L993.7,606.9 L995.9,608.0 L998.2,609.1 L1000.4,610.2 L1002.7,611.4 L1005.0,612.5 L1007.2,613.6 L1009.5,614.8 L1011.7,615.9 L1013.9,617.1 L1016.2,618.2 L1018.4,619.4 L1020.7,620.5 L1022.9,621.7 L1025.1,622.8 L1027.4,624.0 L1029.6,625.1 L1031.9,626.3 L1034.1,627.4 L1036.4,628.6 L1038.6,629.7 L1040.8,630.9 L1043.1,632.0 L1045.3,633.1 L1047.6,634.3 L1049.8,635.4 L1052.1,636.5 L1054.4,637.6 L1056.6,638.7 L1058.9,639.8 L1061.2,640.9 L1063.4,642.0 L1065.7,643.1 L1068.0,644.1" stroke="#448762" stroke-width="1.90" fill="none" stroke-linecap="round" stroke-linejoin="round"/>
<path d="M707.0,425.6 L707.6,428.1 L708.2,430.5 L709.0,432.9 L709.9,435.3 L710.8,437.6 L711.9,439.9 L713.0,442.2 L714.2,444.4 L715.5,446.5 L716.9,448.7 L718.3,450.7 L719.8,452.8 L721.4,454.7 L723.0,456.7 L724.6,458.6 L726.3,460.5 L728.1,462.3 L729.8,464.1 L731.6,465.9 L733.4,467.6 L735.3,469.3 L737.1,471.0 L739.0,472.7 L740.9,474.4 L742.8,476.1 L744.7,477.7 L746.6,479.4 L748.5,481.1 L750.4,482.7 L752.3,484.4 L754.1,486.1 L756.0,487.8 L757.9,489.5 L759.7,491.2 L761.5,493.0 L763.3,494.7 L765.1,496.5 L766.8,498.4 L768.6,500.2 L770.3,502.0 L772.0,503.9 L773.8,505.7 L775.5,507.5 L777.3,509.3 L779.1,511.0 L781.0,512.8 L782.8,514.4 L784.7,516.1 L786.7,517.7 L788.6,519.3 L790.6,520.8 L792.6,522.4 L794.7,523.9 L796.7,525.4 L798.8,526.8 L800.8,528.3 L802.9,529.7 L805.0,531.1 L807.1,532.5 L809.2,533.9 L811.3,535.3 L813.4,536.6 L815.6,538.0 L817.7,539.3 L819.9,540.6 L822.0,542.0 L824.2,543.3 L826.3,544.5 L828.5,545.8 L830.8,547.0 L833.0,548.1 L835.3,549.3 L837.5,550.3 L839.8,551.4 L842.1,552.4 L844.5,553.4 L846.8,554.3 L849.2,555.2 L851.5,556.1 L853.9,556.9 L856.3,557.8 L858.7,558.6 L861.1,559.3 L863.5,560.0 L865.9,560.8 L868.4,561.4 L870.8,562.1 L873.2,562.7 L875.7,563.4 L878.1,564.0 L880.6,564.6 L883.0,565.1 L885.5,565.7 L888.0,566.2 L890.4,566.8 L892.9,567.3 L895.4,567.8 L897.8,568.3 L900.3,568.8 L902.8,569.3 L905.3,569.8 L907.7,570.3 L910.2,570.7 L912.7,571.2 L915.2,571.7 L917.6,572.2 L920.1,572.7 L922.6,573.2 L925.0,573.7 L927.5,574.2 L930.0,574.7 L932.5,575.3 L934.9,575.8 L937.4,576.3 L939.8,576.9 L942.3,577.5 L944.7,578.1 L947.2,578.7 L949.6,579.4 L952.1,580.0 L954.5,580.7 L956.9,581.4 L959.3,582.1 L961.7,582.9 L964.1,583.7 L966.5,584.5 L968.9,585.3 L971.3,586.2 L973.6,587.1 L976.0,588.0 L978.3,588.9 L980.7,589.9 L983.0,590.9 L985.3,591.9 L987.6,592.9 L989.9,594.0 L992.2,595.0 L994.4,596.1 L996.7,597.2 L999.0,598.3 L1001.2,599.5 L1003.5,600.6 L1005.7,601.8 L1007.9,603.0 L1010.2,604.1 L1012.4,605.4 L1014.6,606.6 L1016.8,607.8 L1019.0,609.0 L1021.2,610.3 L1023.4,611.5 L1025.6,612.8 L1027.8,614.0 L1029.9,615.3 L1032.1,616.6 L1034.3,617.9 L1036.5,619.1 L1038.6,620.4 L1040.8,621.7 L1043.0,623.0 L1045.1,624.3 L1047.3,625.6 L1049.5,626.9 L1051.6,628.2 L1053.8,629.5 L1056.0,630.7 L1058.1,632.0 L1060.3,633.3 L1062.5,634.6 L1064.7,635.8 L1066.9,637.1 L1069.0,638.4 L1071.2,639.6 L1073.4,640.8 L1075.6,642.1 L1077.8,643.3 L1080.1,644.5 L1082.3,645.7" stroke="#b3689f" stroke-width="1.90" fill="none" stroke-linecap="round" stroke-linejoin="round"/>
<path d="M707.5,425.4 L707.8,427.9 L708.2,430.3 L708.8,432.8 L709.5,435.2 L710.3,437.6 L711.3,439.9 L712.4,442.2 L713.6,444.4 L714.8,446.6 L716.2,448.7 L717.7,450.7 L719.3,452.7 L720.9,454.6 L722.5,456.5 L724.3,458.4 L726.0,460.2 L727.8,461.9 L729.7,463.7 L731.5,465.4 L733.4,467.0 L735.3,468.7 L737.2,470.3 L739.1,472.0 L741.0,473.6 L742.9,475.3 L744.7,477.0 L746.6,478.7 L748.4,480.5 L750.1,482.3 L751.8,484.2 L753.4,486.1 L754.9,488.1 L756.4,490.2 L757.8,492.2 L759.2,494.3 L760.6,496.5 L761.9,498.6 L763.3,500.7 L764.6,502.9 L766.0,505.0 L767.4,507.1 L768.8,509.1 L770.3,511.2 L771.8,513.2 L773.4,515.1 L775.1,517.0 L776.9,518.8 L778.8,520.5 L780.7,522.0 L782.8,523.5 L784.9,524.9 L787.0,526.2 L789.2,527.5 L791.4,528.7 L793.6,529.9 L795.9,531.0 L798.1,532.2 L800.4,533.3 L802.6,534.4 L804.9,535.5 L807.2,536.6 L809.4,537.7 L811.7,538.8 L814.0,539.8 L816.3,540.9 L818.6,541.9 L820.9,542.9 L823.2,543.9 L825.5,544.9 L827.9,545.9 L830.2,546.8 L832.5,547.7 L834.9,548.6 L837.2,549.5 L839.6,550.4 L842.0,551.2 L844.4,552.1 L846.7,552.9 L849.1,553.7 L851.5,554.4 L853.9,555.2 L856.3,555.9 L858.8,556.6 L861.2,557.3 L863.6,558.0 L866.1,558.6 L868.5,559.2 L870.9,559.8 L873.4,560.4 L875.8,561.0 L878.3,561.5 L880.8,562.0 L883.2,562.5 L885.7,563.0 L888.2,563.5 L890.7,563.9 L893.2,564.3 L895.6,564.7 L898.1,565.1 L900.6,565.4 L903.1,565.7 L905.6,566.0 L908.1,566.3 L910.6,566.6 L913.1,566.8 L915.7,567.0 L918.2,567.2 L920.7,567.4 L923.2,567.6 L925.7,567.7 L928.2,567.9 L930.7,568.0 L933.3,568.1 L935.8,568.2 L938.3,568.3 L940.8,568.4 L943.3,568.5 L945.8,568.6 L948.4,568.7 L950.9,568.8 L953.4,568.9 L955.9,569.0 L958.4,569.1 L960.9,569.2 L963.4,569.4 L966.0,569.6 L968.5,569.7 L971.0,569.9 L973.5,570.1 L976.0,570.3 L978.5,570.6 L981.0,570.8 L983.5,571.0 L986.0,571.2 L988.6,571.4 L991.1,571.7 L993.6,571.9 L996.1,572.1 L998.6,572.3 L1001.1,572.6 L1003.6,572.9 L1006.1,573.3 L1008.6,573.7 L1011.0,574.2 L1013.5,574.8 L1015.9,575.5 L1018.3,576.3 L1020.6,577.2 L1022.9,578.3 L1025.2,579.4 L1027.4,580.6 L1029.5,581.9 L1031.6,583.3 L1033.7,584.7 L1035.8,586.2 L1037.8,587.7 L1039.7,589.3 L1041.7,590.9 L1043.6,592.5 L1045.5,594.2 L1047.4,595.9 L1049.2,597.6 L1051.1,599.3 L1052.9,601.0 L1054.8,602.7 L1056.7,604.4 L1058.5,606.1 L1060.4,607.7 L1062.3,609.4 L1064.2,611.0 L1066.2,612.6 L1068.1,614.2 L1070.1,615.8 L1072.1,617.3 L1074.1,618.8 L1076.2,620.2 L1078.3,621.7 L1080.4,623.1 L1082.5,624.4 L1084.6,625.8 L1086.7,627.1 L1088.9,628.5 L1091.0,629.7 L1093.2,631.0 L1095.4,632.3 L1097.6,633.5 L1099.8,634.7 L1102.0,635.9 L1104.2,637.1 L1106.4,638.3 L1108.7,639.5 L1110.9,640.6 L1113.2,641.8 L1115.4,642.9 L1117.6,644.1" stroke="#4b4a8f" stroke-width="1.90" fill="none" stroke-linecap="round" stroke-linejoin="round"/>
<path d="M708.0,613.4 L707.8,610.9 L707.7,608.4 L707.6,605.8 L707.7,603.3 L707.8,600.8 L708.0,598.3 L708.3,595.8 L708.6,593.3 L709.1,590.8 L709.7,588.4 L710.3,585.9 L711.1,583.5 L712.0,581.2 L713.0,578.9 L714.2,576.6 L715.5,574.5 L717.0,572.4 L718.6,570.5 L720.4,568.8 L722.4,567.2 L724.5,565.9 L726.8,564.7 L729.1,563.8 L731.5,563.0 L733.9,562.3 L736.4,561.7 L738.8,561.2 L741.3,560.8 L743.8,560.4 L746.3,560.1 L748.8,559.8 L751.3,559.5 L753.8,559.2 L756.3,558.8 L758.8,558.5 L761.3,558.2 L763.8,557.8 L766.3,557.4 L768.8,557.0 L771.3,556.6 L773.7,556.2 L776.2,555.7 L778.7,555.3 L781.2,554.8 L783.7,554.4 L786.1,553.9 L788.6,553.4 L791.1,552.9 L793.5,552.3 L796.0,551.8 L798.5,551.2 L800.9,550.7 L803.4,550.1 L805.8,549.5 L808.3,548.9 L810.7,548.3 L813.1,547.7 L815.6,547.0 L818.0,546.4 L820.5,545.7 L822.9,545.0 L825.3,544.3 L827.7,543.6 L830.1,542.9 L832.6,542.2 L835.0,541.5 L837.4,540.7 L839.8,540.0 L842.2,539.2 L844.6,538.5 L847.0,537.7 L849.4,536.9 L851.8,536.1 L854.1,535.3 L856.5,534.4 L858.9,533.6 L861.3,532.8 L863.7,531.9 L866.0,531.0 L868.4,530.2 L870.7,529.3 L873.1,528.4 L875.5,527.5 L877.8,526.6 L880.2,525.7 L882.5,524.8 L884.8,523.8 L887.2,522.9 L889.5,521.9 L891.9,521.0 L894.2,520.0 L896.5,519.0 L898.8,518.1 L901.1,517.1 L903.5,516.1 L905.8,515.1 L908.1,514.1 L910.4,513.1 L912.7,512.1 L915.0,511.0 L917.3,510.0 L919.6,509.0 L921.9,507.9 L924.2,506.9 L926.5,505.8 L928.8,504.8 L931.1,503.7 L933.3,502.6 L935.6,501.6 L937.9,500.5 L940.2,499.4 L942.4,498.3 L944.7,497.2 L947.0,496.1 L949.3,495.0 L951.5,493.9 L953.8,492.8 L956.1,491.7 L958.3,490.6 L960.6,489.5 L962.8,488.4 L965.1,487.2 L967.3,486.1 L969.6,485.0 L971.8,483.9 L974.1,482.7 L976.3,481.6 L978.6,480.4 L980.8,479.3 L983.1,478.2 L985.3,477.0 L987.6,475.9 L989.8,474.7 L992.0,473.6 L994.3,472.4 L996.5,471.2 L998.8,470.1 L1001.0,468.9 L1003.2,467.8 L1005.5,466.6 L1007.7,465.5 L1010.0,464.3 L1012.2,463.1 L1014.4,462.0 L1016.7,460.8 L1018.9,459.7 L1021.1,458.5 L1023.4,457.3 L1025.6,456.2 L1027.9,455.0 L1030.1,453.8 L1032.3,452.7 L1034.6,451.5 L1036.8,450.4 L1039.0,449.2 L1041.3,448.1 L1043.5,446.9 L1045.8,445.8 L1048.0,444.6 L1050.2,443.5 L1052.5,442.3 L1054.7,441.2 L1057.0,440.0 L1059.2,438.9 L1061.5,437.7 L1063.7,436.6 L1066.0,435.5 L1068.2,434.3 L1070.5,433.2 L1072.7,432.1 L1075.0,431.0 L1077.2,429.8 L1079.5,428.7 L1081.8,427.6 L1084.0,426.5 L1086.3,425.4 L1088.6,424.3 L1090.8,423.2 L1093.1,422.1 L1095.4,421.0 L1097.7,419.9 L1099.9,418.8 L1102.2,417.8 L1104.5,416.7 L1106.8,415.6 L1109.1,414.6 L1111.4,413.5 L1113.6,412.5 L1115.9,411.4" stroke="#448762" stroke-width="1.90" fill="none" stroke-linecap="round" stroke-linejoin="round"/>
<path d="M708.0,618.2 L708.1,615.7 L708.2,613.2 L708.4,610.6 L708.6,608.1 L708.9,605.6 L709.1,603.1 L709.5,600.6 L709.9,598.1 L710.3,595.7 L710.8,593.2 L711.4,590.7 L712.1,588.3 L712.9,585.9 L713.8,583.6 L714.8,581.3 L715.9,579.0 L717.2,576.9 L718.7,574.8 L720.3,572.9 L722.1,571.2 L724.1,569.6 L726.2,568.2 L728.5,567.1 L730.8,566.1 L733.1,565.2 L735.5,564.4 L738.0,563.8 L740.4,563.3 L742.9,562.8 L745.4,562.5 L747.9,562.2 L750.4,561.9 L752.9,561.7 L755.4,561.6 L758.0,561.4 L760.5,561.3 L763.0,561.2 L765.5,561.1 L768.0,561.0 L770.5,560.9 L773.1,560.8 L775.6,560.7 L778.1,560.6 L780.6,560.4 L783.1,560.2 L785.6,560.1 L788.1,559.9 L790.7,559.7 L793.2,559.5 L795.7,559.3 L798.2,559.0 L800.7,558.8 L803.2,558.5 L805.7,558.3 L808.2,558.0 L810.7,557.7 L813.2,557.4 L815.7,557.1 L818.2,556.7 L820.7,556.4 L823.2,556.0 L825.7,555.6 L828.2,555.3 L830.6,554.9 L833.1,554.4 L835.6,554.0 L838.1,553.6 L840.6,553.1 L843.0,552.6 L845.5,552.1 L848.0,551.6 L850.4,551.1 L852.9,550.6 L855.4,550.0 L857.8,549.4 L860.3,548.9 L862.7,548.3 L865.1,547.6 L867.6,547.0 L870.0,546.4 L872.4,545.7 L874.9,545.0 L877.3,544.3 L879.7,543.6 L882.1,542.9 L884.5,542.1 L886.9,541.4 L889.3,540.6 L891.7,539.8 L894.1,539.0 L896.5,538.2 L898.9,537.4 L901.2,536.5 L903.6,535.7 L906.0,534.8 L908.3,533.9 L910.7,533.0 L913.0,532.1 L915.4,531.1 L917.7,530.2 L920.0,529.3 L922.4,528.3 L924.7,527.3 L927.0,526.3 L929.3,525.3 L931.6,524.3 L933.9,523.3 L936.2,522.2 L938.5,521.2 L940.8,520.1 L943.1,519.1 L945.3,518.0 L947.6,516.9 L949.9,515.8 L952.1,514.7 L954.4,513.5 L956.6,512.4 L958.9,511.3 L961.1,510.1 L963.3,508.9 L965.6,507.8 L967.8,506.6 L970.0,505.4 L972.2,504.2 L974.4,503.0 L976.6,501.8 L978.8,500.5 L981.0,499.3 L983.2,498.1 L985.4,496.8 L987.6,495.5 L989.8,494.3 L991.9,493.0 L994.1,491.7 L996.3,490.4 L998.4,489.1 L1000.6,487.8 L1002.7,486.5 L1004.9,485.2 L1007.0,483.9 L1009.2,482.5 L1011.3,481.2 L1013.4,479.9 L1015.6,478.5 L1017.7,477.2 L1019.8,475.8 L1021.9,474.5 L1024.1,473.2 L1026.2,471.8 L1028.3,470.5 L1030.5,469.1 L1032.6,467.8 L1034.7,466.4 L1036.8,465.1 L1039.0,463.7 L1041.1,462.4 L1043.2,461.0 L1045.4,459.7 L1047.5,458.4 L1049.6,457.0 L1051.8,455.7 L1053.9,454.4 L1056.1,453.1 L1058.2,451.8 L1060.4,450.5 L1062.6,449.2 L1064.7,447.9 L1066.9,446.7 L1069.1,445.4 L1071.3,444.2 L1073.5,442.9 L1075.7,441.7 L1077.9,440.5 L1080.1,439.3 L1082.3,438.1 L1084.5,436.9 L1086.8,435.7 L1089.0,434.6 L1091.2,433.4 L1093.5,432.3 L1095.8,431.2 L1098.0,430.1 L1100.3,429.0 L1102.6,428.0 L1104.9,426.9 L1107.2,425.9 L1109.5,424.9 L1111.8,423.9 L1114.1,423.0 L1116.5,422.0 L1118.8,421.1 L1121.2,420.2 L1123.5,419.4 L1125.9,418.5 L1128.3,417.7 L1130.7,416.9 L1133.1,416.1 L1135.5,415.4 L1137.9,414.6 L1140.3,413.9 L1142.7,413.3 L1145.2,412.6 L1147.6,412.0 L1150.1,411.4" stroke="#b3689f" stroke-width="1.90" fill="none" stroke-linecap="round" stroke-linejoin="round"/>
<path d="M707.7,523.1 L707.7,520.5 L708.0,518.0 L708.3,515.5 L708.8,513.0 L709.4,510.5 L710.1,508.1 L710.9,505.7 L711.9,503.3 L712.9,501.0 L714.0,498.7 L715.2,496.5 L716.4,494.3 L717.7,492.1 L719.0,489.9 L720.4,487.8 L721.8,485.7 L723.3,483.6 L724.7,481.5 L726.2,479.5 L727.7,477.4 L729.2,475.4 L730.7,473.3 L732.2,471.3 L733.7,469.2 L735.1,467.1 L736.5,465.0 L737.9,462.9 L739.2,460.7 L740.5,458.5 L741.6,456.3 L742.7,454.0 L743.7,451.7 L744.6,449.3 L745.5,446.9 L746.3,444.5 L747.1,442.1 L748.0,439.7 L748.9,437.4 L750.1,435.1 L751.4,432.9 L752.9,430.9 L754.8,429.2 L756.9,427.8 L759.1,426.6 L761.5,425.8 L764.0,425.3 L766.5,425.0 L769.1,425.0 L771.6,425.0 L774.1,425.2 L776.7,425.4 L779.2,425.5 L781.7,425.7 L784.3,425.7 L786.8,425.7 L789.3,425.7 L791.9,425.6 L794.4,425.5 L796.9,425.4 L799.5,425.2 L802.0,425.0 L804.5,424.8 L807.1,424.5 L809.6,424.3 L812.1,424.0 L814.6,423.7 L817.1,423.4 L819.7,423.1 L822.2,422.8 L824.7,422.5 L827.2,422.2 L829.7,421.9 L832.2,421.6 L834.8,421.3 L837.3,421.0 L839.8,420.6 L842.3,420.3 L844.8,420.0 L847.3,419.7 L849.9,419.4 L852.4,419.1 L854.9,418.8 L857.4,418.4 L859.9,418.1 L862.5,417.8 L865.0,417.5 L867.5,417.2 L870.0,416.9 L872.5,416.6 L875.0,416.3 L877.6,416.0 L880.1,415.7 L882.6,415.4 L885.1,415.1 L887.6,414.8 L890.2,414.5 L892.7,414.3 L895.2,414.0 L897.7,413.7 L900.3,413.5 L902.8,413.2 L905.3,413.0 L907.8,412.7 L910.4,412.5 L912.9,412.3 L915.4,412.1 L917.9,411.9 L920.5,411.7" stroke="#4b4a8f" stroke-width="1.90" fill="none" stroke-linecap="round" stroke-linejoin="round"/>
<text class="l" x="846.8" y="409.2" textLength="21.2" lengthAdjust="spacingAndGlyphs">1st</text>
<text class="l" x="1098.8" y="409.2" textLength="22.5" lengthAdjust="spacingAndGlyphs">3rd</text>
<text class="l" x="1148.8" y="409.2" textLength="25.0" lengthAdjust="spacingAndGlyphs">2nd</text>
<text class="l" x="1037.5" y="651.8" textLength="23.8" lengthAdjust="spacingAndGlyphs">3rd</text>
<text class="l" x="1086.2" y="648.0" textLength="25.0" lengthAdjust="spacingAndGlyphs">2nd</text>
<text class="l" x="1131.2" y="643.8" textLength="20.0" lengthAdjust="spacingAndGlyphs">1st</text>
<text class="l" x="1192.5" y="643.8" textLength="57.5" lengthAdjust="spacingAndGlyphs">10mA/g</text>
<rect x="58.75" y="765.90" width="555.25" height="268.20" fill="none" stroke="#2a2a2a" stroke-width="2.6"/>
<path d="M58.75,992.19h6.5 M58.75,950.29h6.5 M58.75,908.38h6.5 M58.75,866.48h6.5 M58.75,824.57h6.5 M58.75,782.66h6.5 M151.29,1034.10v-6 M243.83,1034.10v-6 M336.38,1034.10v-6 M428.92,1034.10v-6 M521.46,1034.10v-6" stroke="#2a2a2a" stroke-width="2" fill="none"/>
<text class="n" x="45.8" y="1040.0" text-anchor="end" textLength="21.0" lengthAdjust="spacingAndGlyphs">1.8</text>
<text class="n" x="45.8" y="998.1" text-anchor="end" textLength="21.0" lengthAdjust="spacingAndGlyphs">2.3</text>
<text class="n" x="45.8" y="956.2" text-anchor="end" textLength="21.0" lengthAdjust="spacingAndGlyphs">2.8</text>
<text class="n" x="45.8" y="914.3" text-anchor="end" textLength="21.0" lengthAdjust="spacingAndGlyphs">3.3</text>
<text class="n" x="45.8" y="872.4" text-anchor="end" textLength="21.0" lengthAdjust="spacingAndGlyphs">3.8</text>
<text class="n" x="45.8" y="830.5" text-anchor="end" textLength="21.0" lengthAdjust="spacingAndGlyphs">4.3</text>
<text class="n" x="45.8" y="788.6" text-anchor="end" textLength="21.0" lengthAdjust="spacingAndGlyphs">4.8</text>
<text class="n" x="58.8" y="1062.5" text-anchor="middle">0</text>
<text class="n" x="151.3" y="1062.5" text-anchor="middle" textLength="17.5" lengthAdjust="spacingAndGlyphs">50</text>
<text class="n" x="243.8" y="1062.5" text-anchor="middle" textLength="26.5" lengthAdjust="spacingAndGlyphs">100</text>
<text class="n" x="336.4" y="1062.5" text-anchor="middle" textLength="26.5" lengthAdjust="spacingAndGlyphs">150</text>
<text class="n" x="428.9" y="1062.5" text-anchor="middle" textLength="26.5" lengthAdjust="spacingAndGlyphs">200</text>
<text class="n" x="521.5" y="1062.5" text-anchor="middle" textLength="26.5" lengthAdjust="spacingAndGlyphs">250</text>
<text class="n" x="614.0" y="1062.5" text-anchor="middle" textLength="26.5" lengthAdjust="spacingAndGlyphs">300</text>
<text class="t" x="65.2" y="756.3" textLength="110.7" lengthAdjust="spacingAndGlyphs">(48A) 48 hours</text>
<text class="ax" x="270.4" y="1085.2" textLength="132.2" lengthAdjust="spacingAndGlyphs">Capacity (mAh/g)</text>
<text class="t" transform="translate(14.2,989.0) rotate(-90)" x="0" y="0" textLength="173.4" lengthAdjust="spacingAndGlyphs">Potential (V vs. Li/Li+)</text>
<path d="M57.8,804.4 L58.8,806.7 L60.0,809.0 L61.2,811.2 L62.5,813.4 L63.8,815.5 L65.3,817.5 L66.8,819.5 L68.4,821.4 L70.1,823.3 L71.8,825.1 L73.6,826.9 L75.5,828.6 L77.3,830.3 L79.2,831.9 L81.2,833.5 L83.2,835.1 L85.2,836.6 L87.2,838.1 L89.3,839.5 L91.3,841.0 L93.4,842.4 L95.5,843.8 L97.6,845.1 L99.8,846.5 L101.9,847.8 L104.0,849.1 L106.2,850.4 L108.4,851.6 L110.6,852.9 L112.8,854.1 L115.0,855.3 L117.2,856.5 L119.4,857.7 L121.6,858.9 L123.8,860.1 L126.0,861.2 L128.3,862.4 L130.5,863.5 L132.8,864.7 L135.0,865.8 L137.2,867.0 L139.5,868.1 L141.7,869.2 L144.0,870.4 L146.2,871.5 L148.5,872.7 L150.7,873.8 L152.9,874.9 L155.2,876.1 L157.4,877.3 L159.6,878.4 L161.8,879.6 L164.1,880.8 L166.3,882.0 L168.5,883.2 L170.7,884.4 L172.9,885.6 L175.1,886.8 L177.3,888.0 L179.5,889.1 L181.8,890.3 L184.0,891.5 L186.2,892.7 L188.4,893.9 L190.7,895.0 L192.9,896.2 L195.2,897.3 L197.4,898.4 L199.7,899.5 L201.9,900.6 L204.2,901.6 L206.5,902.6 L208.8,903.7 L211.1,904.6 L213.5,905.6 L215.8,906.6 L218.1,907.5 L220.5,908.4 L222.8,909.3 L225.2,910.2 L227.5,911.1 L229.9,911.9 L232.3,912.7 L234.6,913.5 L237.0,914.3 L239.4,915.1 L241.8,915.9 L244.2,916.6 L246.6,917.3 L249.0,918.1 L251.5,918.8 L253.9,919.5 L256.3,920.1 L258.7,920.8 L261.2,921.4 L263.6,922.1 L266.0,922.7 L268.5,923.3 L270.9,923.9 L273.4,924.5 L275.8,925.0 L278.3,925.6 L280.7,926.1 L283.2,926.7 L285.6,927.2 L288.1,927.7 L290.5,928.2 L293.0,928.7 L295.5,929.2 L297.9,929.7 L300.4,930.1 L302.9,930.6 L305.4,931.1 L307.8,931.5 L310.3,932.0 L312.8,932.4 L315.3,932.9 L317.7,933.3 L320.2,933.8 L322.7,934.2 L325.2,934.7 L327.6,935.1 L330.1,935.6 L332.6,936.1 L335.0,936.5 L337.5,937.0 L340.0,937.5 L342.4,938.1 L344.9,938.6 L347.3,939.1 L349.8,939.7 L352.2,940.3 L354.7,940.9 L357.1,941.5 L359.5,942.2 L362.0,942.8 L364.4,943.6 L366.8,944.3 L369.2,945.1 L371.5,945.9 L373.9,946.7 L376.3,947.6 L378.6,948.5 L380.9,949.5 L383.2,950.5 L385.5,951.6 L387.8,952.7 L390.0,953.8 L392.2,955.0 L394.4,956.2 L396.6,957.5 L398.8,958.7 L400.9,960.0 L403.1,961.4 L405.2,962.7 L407.3,964.1 L409.4,965.5 L411.5,966.9 L413.5,968.3 L415.6,969.8 L417.6,971.3 L419.7,972.7 L421.7,974.2 L423.7,975.7 L425.7,977.2 L427.7,978.7 L429.7,980.3 L431.7,981.8 L433.7,983.3 L435.7,984.8 L437.7,986.4 L439.7,987.9 L441.7,989.4 L443.7,990.9 L445.7,992.4 L447.8,993.9 L449.8,995.4 L451.8,996.9 L453.8,998.4 L455.9,999.8 L457.9,1001.3 L460.0,1002.7 L462.1,1004.1 L464.2,1005.5 L466.3,1006.9 L468.4,1008.2 L470.6,1009.6 L472.7,1010.9 L474.9,1012.1 L477.1,1013.4 L479.3,1014.6 L481.5,1015.7 L483.8,1016.9 L486.0,1018.0" stroke="#b3689f" stroke-width="1.90" fill="none" stroke-linecap="round" stroke-linejoin="round"/>
<path d="M58.2,791.5 L58.7,794.0 L59.2,796.5 L59.9,798.9 L60.7,801.3 L61.6,803.6 L62.7,805.9 L63.9,808.2 L65.2,810.3 L66.6,812.4 L68.1,814.4 L69.7,816.4 L71.4,818.2 L73.2,820.0 L75.1,821.7 L77.0,823.3 L79.0,824.9 L81.0,826.4 L83.1,827.9 L85.2,829.2 L87.3,830.6 L89.5,831.9 L91.7,833.2 L93.9,834.4 L96.1,835.6 L98.3,836.8 L100.6,838.0 L102.8,839.1 L105.1,840.3 L107.3,841.5 L109.6,842.6 L111.8,843.8 L114.0,844.9 L116.3,846.1 L118.5,847.2 L120.8,848.4 L123.0,849.5 L125.3,850.7 L127.5,851.9 L129.8,853.0 L132.0,854.2 L134.3,855.3 L136.5,856.5 L138.8,857.6 L141.0,858.8 L143.2,859.9 L145.5,861.1 L147.7,862.2 L150.0,863.4 L152.2,864.5 L154.5,865.7 L156.7,866.8 L159.0,868.0 L161.2,869.1 L163.5,870.3 L165.7,871.4 L168.0,872.6 L170.2,873.7 L172.5,874.9 L174.7,876.0 L177.0,877.1 L179.2,878.3 L181.5,879.4 L183.8,880.6 L186.0,881.7 L188.3,882.8 L190.5,884.0 L192.8,885.1 L195.1,886.2 L197.3,887.3 L199.6,888.4 L201.9,889.5 L204.1,890.6 L206.4,891.7 L208.7,892.8 L211.0,893.9 L213.3,894.9 L215.6,896.0 L217.9,897.0 L220.2,898.1 L222.5,899.1 L224.8,900.1 L227.1,901.1 L229.4,902.1 L231.7,903.1 L234.1,904.1 L236.4,905.1 L238.7,906.0 L241.1,907.0 L243.4,907.9 L245.8,908.8 L248.1,909.7 L250.5,910.6 L252.9,911.5 L255.2,912.4 L257.6,913.2 L260.0,914.1 L262.4,914.9 L264.8,915.7 L267.2,916.5 L269.6,917.3 L272.0,918.1 L274.4,918.8 L276.8,919.6 L279.2,920.3 L281.6,921.1 L284.0,921.8 L286.5,922.6 L288.9,923.3 L291.3,924.0 L293.7,924.7 L296.1,925.4 L298.6,926.1 L301.0,926.8 L303.4,927.5 L305.9,928.2 L308.3,928.9 L310.7,929.5 L313.2,930.2 L315.6,930.8 L318.1,931.5 L320.5,932.1 L322.9,932.7 L325.4,933.3 L327.8,933.9 L330.3,934.5 L332.8,935.1 L335.2,935.7 L337.7,936.3 L340.1,936.9 L342.6,937.5 L345.0,938.1 L347.5,938.7 L349.9,939.4 L352.4,940.0 L354.8,940.7 L357.2,941.4 L359.6,942.1 L362.1,942.8 L364.5,943.6 L366.9,944.4 L369.2,945.2 L371.6,946.1 L374.0,947.0 L376.3,947.9 L378.7,948.9 L381.0,949.9 L383.3,950.9 L385.6,952.0 L387.9,953.1 L390.1,954.2 L392.4,955.3 L394.6,956.5 L396.9,957.7 L399.1,958.9 L401.3,960.1 L403.5,961.4 L405.6,962.7 L407.8,964.0 L409.9,965.3 L412.0,966.7 L414.2,968.1 L416.3,969.5 L418.3,970.9 L420.4,972.4 L422.5,973.9 L424.5,975.3 L426.5,976.9 L428.5,978.4 L430.5,979.9 L432.5,981.5 L434.5,983.1 L436.5,984.6 L438.4,986.2 L440.4,987.8 L442.4,989.4 L444.3,991.0 L446.3,992.6 L448.3,994.1 L450.3,995.7 L452.3,997.2 L454.3,998.8 L456.3,1000.3 L458.3,1001.8 L460.4,1003.3 L462.4,1004.7 L464.5,1006.1 L466.6,1007.5 L468.7,1008.9 L470.9,1010.2 L473.1,1011.5 L475.3,1012.7 L477.5,1013.9" stroke="#448762" stroke-width="1.90" fill="none" stroke-linecap="round" stroke-linejoin="round"/>
<path d="M58.2,818.1 L59.5,820.3 L60.7,822.5 L61.9,824.7 L63.2,826.9 L64.5,829.0 L65.8,831.2 L67.2,833.3 L68.5,835.4 L69.9,837.5 L71.3,839.6 L72.7,841.7 L74.2,843.8 L75.6,845.8 L77.1,847.9 L78.6,849.9 L80.1,851.9 L81.6,853.9 L83.2,855.9 L84.8,857.8 L86.4,859.8 L88.0,861.7 L89.6,863.6 L91.3,865.5 L92.9,867.4 L94.6,869.3 L96.3,871.1 L98.0,873.0 L99.8,874.8 L101.6,876.6 L103.3,878.4 L105.1,880.1 L107.0,881.9 L108.8,883.6 L110.6,885.3 L112.5,887.0 L114.4,888.6 L116.3,890.3 L118.2,891.9 L120.2,893.5 L122.1,895.1 L124.1,896.7 L126.1,898.2 L128.1,899.7 L130.2,901.2 L132.2,902.7 L134.3,904.1 L136.4,905.5 L138.5,906.9 L140.6,908.2 L142.7,909.5 L144.9,910.8 L147.1,912.1 L149.3,913.3 L151.5,914.4 L153.8,915.6 L156.1,916.7 L158.3,917.7 L160.6,918.7 L163.0,919.7 L165.3,920.6 L167.7,921.5 L170.0,922.4 L172.4,923.1 L174.8,923.9 L177.3,924.5 L179.7,925.2 L182.2,925.7 L184.6,926.3 L187.1,926.7 L189.6,927.2 L192.1,927.6 L194.6,927.9 L197.0,928.3 L199.5,928.6 L202.0,928.9 L204.5,929.2 L207.1,929.5 L209.6,929.7 L212.1,930.0 L214.6,930.3 L217.1,930.6 L219.6,930.9 L222.1,931.2 L224.5,931.6 L227.0,931.9 L229.5,932.3 L232.0,932.7 L234.5,933.1 L237.0,933.6 L239.5,934.0 L241.9,934.5 L244.4,934.9 L246.9,935.4 L249.3,935.9 L251.8,936.4 L254.3,936.9 L256.7,937.4 L259.2,938.0 L261.7,938.5 L264.1,939.0 L266.6,939.6 L269.0,940.1 L271.5,940.6 L274.0,941.2 L276.4,941.7 L278.9,942.3 L281.3,942.8 L283.8,943.3 L286.3,943.9 L288.7,944.4 L291.2,944.9 L293.7,945.4 L296.1,945.9 L298.6,946.4 L301.1,946.9 L303.5,947.4 L306.0,947.9 L308.5,948.4 L310.9,948.8 L313.4,949.3 L315.9,949.8 L318.4,950.3 L320.8,950.7 L323.3,951.2 L325.8,951.7 L328.2,952.2 L330.7,952.8 L333.2,953.3 L335.6,953.9 L338.1,954.5 L340.5,955.1 L342.9,955.7 L345.4,956.4 L347.8,957.1 L350.2,957.9 L352.6,958.6 L355.0,959.5 L357.3,960.3 L359.7,961.2 L362.0,962.2 L364.3,963.2 L366.6,964.2 L368.9,965.3 L371.1,966.5 L373.3,967.7 L375.5,968.9 L377.6,970.2 L379.8,971.6 L381.8,973.1 L383.9,974.5 L385.9,976.1 L387.8,977.7 L389.8,979.3 L391.7,980.9 L393.6,982.6 L395.4,984.3 L397.3,986.0 L399.1,987.7 L401.0,989.4 L402.8,991.1 L404.6,992.9 L406.4,994.6 L408.3,996.3 L410.1,998.1 L411.9,999.8 L413.8,1001.5 L415.7,1003.1 L417.6,1004.8 L419.5,1006.4 L421.5,1008.0 L423.5,1009.5 L425.5,1011.0 L427.5,1012.5 L429.6,1013.9 L431.8,1015.2 L433.9,1016.5 L436.2,1017.7" stroke="#4b4a8f" stroke-width="1.90" fill="none" stroke-linecap="round" stroke-linejoin="round"/>
<path d="M59.1,989.6 L59.4,987.1 L59.8,984.6 L60.3,982.1 L60.9,979.7 L61.5,977.3 L62.2,974.8 L63.0,972.4 L63.8,970.1 L64.8,967.7 L65.8,965.4 L66.8,963.2 L68.0,960.9 L69.3,958.8 L70.6,956.6 L72.1,954.6 L73.6,952.6 L75.3,950.7 L77.0,948.9 L78.8,947.2 L80.8,945.6 L82.9,944.1 L85.0,942.8 L87.2,941.6 L89.5,940.5 L91.8,939.5 L94.1,938.6 L96.5,937.8 L98.9,937.0 L101.3,936.3 L103.8,935.7 L106.2,935.1 L108.6,934.5 L111.1,933.9 L113.6,933.4 L116.0,932.8 L118.4,932.2 L120.9,931.6 L123.3,931.0 L125.8,930.3 L128.2,929.7 L130.6,929.0 L133.0,928.3 L135.4,927.6 L137.9,926.9 L140.3,926.1 L142.7,925.4 L145.1,924.6 L147.5,923.8 L149.8,923.0 L152.2,922.2 L154.6,921.4 L157.0,920.6 L159.4,919.8 L161.7,918.9 L164.1,918.1 L166.5,917.2 L168.8,916.3 L171.2,915.5 L173.6,914.6 L175.9,913.7 L178.3,912.8 L180.6,911.9 L183.0,911.1 L185.3,910.2 L187.7,909.3 L190.0,908.4 L192.4,907.5 L194.7,906.6 L197.1,905.7 L199.4,904.8 L201.8,903.9 L204.1,903.0 L206.5,902.1 L208.8,901.2 L211.2,900.3 L213.6,899.5 L215.9,898.6 L218.3,897.7 L220.7,896.9 L223.0,896.0 L225.4,895.2 L227.8,894.3 L230.1,893.5 L232.5,892.7 L234.9,891.8 L237.3,891.0 L239.7,890.2 L242.0,889.4 L244.4,888.6 L246.8,887.8 L249.2,887.0 L251.6,886.2 L254.0,885.4 L256.4,884.6 L258.8,883.9 L261.1,883.1 L263.5,882.3 L265.9,881.5 L268.3,880.8 L270.7,880.0 L273.1,879.2 L275.5,878.5 L277.9,877.7 L280.3,876.9 L282.7,876.2 L285.1,875.4 L287.5,874.6 L289.9,873.9 L292.3,873.1 L294.7,872.4 L297.1,871.6 L299.5,870.8 L301.9,870.1 L304.3,869.3 L306.7,868.5 L309.1,867.8 L311.5,867.0 L313.9,866.2 L316.3,865.5 L318.7,864.7 L321.1,863.9 L323.5,863.1 L325.8,862.3 L328.2,861.6 L330.6,860.8 L333.0,860.0 L335.4,859.2 L337.8,858.4 L340.2,857.6 L342.6,856.7 L344.9,855.9 L347.3,855.1 L349.7,854.3 L352.1,853.4 L354.4,852.6 L356.8,851.8 L359.2,850.9 L361.5,850.1 L363.9,849.2 L366.3,848.3 L368.6,847.5 L371.0,846.6 L373.4,845.7 L375.7,844.8 L378.1,844.0 L380.4,843.1 L382.8,842.2 L385.1,841.3 L387.5,840.4 L389.8,839.5 L392.2,838.6 L394.5,837.7 L396.9,836.7 L399.2,835.8 L401.5,834.9 L403.9,834.0 L406.2,833.1 L408.6,832.1 L410.9,831.2 L413.2,830.3 L415.6,829.3 L417.9,828.4 L420.2,827.5 L422.6,826.5 L424.9,825.6 L427.2,824.6 L429.6,823.7 L431.9,822.7 L434.2,821.8 L436.6,820.8 L438.9,819.9 L441.2,818.9 L443.6,818.0 L445.9,817.0 L448.2,816.1 L450.6,815.1 L452.9,814.2 L455.2,813.2 L457.5,812.3 L459.9,811.3 L462.2,810.4 L464.5,809.4 L466.9,808.5 L469.2,807.5 L471.5,806.6 L473.9,805.7 L476.2,804.7 L478.5,803.8 L480.9,802.8 L483.2,801.9 L485.5,800.9 L487.9,800.0 L490.2,799.1 L492.5,798.1 L494.9,797.2 L497.2,796.3 L499.6,795.3 L501.9,794.4 L504.2,793.5 L506.6,792.6 L508.9,791.7 L511.3,790.8 L513.6,789.8 L516.0,788.9 L518.3,788.0 L520.7,787.1 L523.0,786.2 L525.4,785.4 L527.7,784.5 L530.1,783.6 L532.4,782.7 L534.8,781.8 L537.2,781.0" stroke="#b3689f" stroke-width="1.90" fill="none" stroke-linecap="round" stroke-linejoin="round"/>
<path d="M59.1,996.9 L59.5,994.5 L60.0,992.0 L60.6,989.6 L61.1,987.1 L61.7,984.7 L62.4,982.2 L63.1,979.8 L63.9,977.4 L64.7,975.1 L65.6,972.7 L66.6,970.4 L67.6,968.1 L68.7,965.8 L69.8,963.6 L71.1,961.4 L72.4,959.3 L73.8,957.2 L75.4,955.2 L77.0,953.3 L78.7,951.5 L80.5,949.7 L82.5,948.2 L84.5,946.7 L86.6,945.3 L88.8,944.1 L91.1,943.0 L93.4,941.9 L95.7,941.0 L98.0,940.1 L100.4,939.3 L102.8,938.5 L105.2,937.8 L107.6,937.1 L110.1,936.4 L112.5,935.8 L114.9,935.2 L117.3,934.5 L119.8,933.8 L122.2,933.2 L124.6,932.5 L127.0,931.8 L129.4,931.1 L131.8,930.3 L134.2,929.6 L136.6,928.9 L139.0,928.1 L141.4,927.3 L143.8,926.5 L146.2,925.8 L148.6,925.0 L151.0,924.1 L153.3,923.3 L155.7,922.5 L158.1,921.7 L160.5,920.8 L162.8,920.0 L165.2,919.1 L167.6,918.3 L169.9,917.4 L172.3,916.6 L174.6,915.7 L177.0,914.8 L179.3,913.9 L181.7,913.0 L184.0,912.2 L186.4,911.3 L188.7,910.4 L191.1,909.5 L193.4,908.6 L195.8,907.7 L198.1,906.8 L200.5,905.9 L202.8,905.0 L205.2,904.1 L207.5,903.2 L209.9,902.3 L212.2,901.5 L214.6,900.6 L216.9,899.7 L219.3,898.8 L221.7,897.9 L224.0,897.1 L226.4,896.2 L228.7,895.3 L231.1,894.5 L233.5,893.6 L235.8,892.8 L238.2,891.9 L240.6,891.1 L242.9,890.2 L245.3,889.4 L247.7,888.5 L250.0,887.7 L252.4,886.9 L254.8,886.0 L257.1,885.2 L259.5,884.4 L261.9,883.5 L264.3,882.7 L266.6,881.9 L269.0,881.1 L271.4,880.3 L273.8,879.4 L276.1,878.6 L278.5,877.8 L280.9,877.0 L283.3,876.2 L285.7,875.4 L288.0,874.6 L290.4,873.8 L292.8,873.0 L295.2,872.2 L297.6,871.4 L299.9,870.6 L302.3,869.8 L304.7,869.0 L307.1,868.2 L309.5,867.4 L311.9,866.6 L314.2,865.8 L316.6,865.0 L319.0,864.2 L321.4,863.4 L323.8,862.6 L326.2,861.8 L328.5,861.0 L330.9,860.2 L333.3,859.4 L335.7,858.6 L338.1,857.8 L340.5,857.0 L342.8,856.2 L345.2,855.4 L347.6,854.6 L350.0,853.8 L352.4,853.0 L354.8,852.2 L357.1,851.4 L359.5,850.6 L361.9,849.8 L364.3,849.0 L366.7,848.2 L369.0,847.4 L371.4,846.6 L373.8,845.7 L376.2,844.9 L378.6,844.1 L380.9,843.3 L383.3,842.4 L385.7,841.6 L388.0,840.8 L390.4,839.9 L392.8,839.1 L395.1,838.2 L397.5,837.4 L399.9,836.5 L402.2,835.7 L404.6,834.8 L406.9,833.9 L409.3,833.0 L411.6,832.1 L414.0,831.2 L416.3,830.3 L418.7,829.4 L421.0,828.5 L423.4,827.6 L425.7,826.7 L428.0,825.7 L430.4,824.8 L432.7,823.8 L435.0,822.9 L437.3,821.9 L439.6,820.9 L441.9,819.9 L444.2,818.9 L446.6,817.9 L448.9,816.9 L451.1,815.9 L453.4,814.8 L455.7,813.8 L458.0,812.8 L460.3,811.7 L462.6,810.6 L464.9,809.6 L467.1,808.5 L469.4,807.5 L471.7,806.4 L474.0,805.3 L476.2,804.3 L478.5,803.2 L480.8,802.2 L483.1,801.1 L485.4,800.1 L487.7,799.1 L490.0,798.1 L492.3,797.1 L494.6,796.1 L496.9,795.1 L499.2,794.2 L501.6,793.2 L503.9,792.3 L506.3,791.4 L508.6,790.5 L511.0,789.6 L513.3,788.8 L515.7,788.0 L518.1,787.2 L520.5,786.5 L522.9,785.7 L525.3,785.1 L527.8,784.4 L530.2,783.8 L532.6,783.2 L535.1,782.6 L537.5,782.1" stroke="#448762" stroke-width="1.90" fill="none" stroke-linecap="round" stroke-linejoin="round"/>
<path d="M58.6,878.9 L59.8,876.7 L61.1,874.5 L62.4,872.2 L63.8,870.1 L65.2,867.9 L66.6,865.7 L68.0,863.6 L69.5,861.5 L71.0,859.4 L72.5,857.3 L74.1,855.3 L75.6,853.3 L77.2,851.2 L78.9,849.3 L80.5,847.3 L82.2,845.3 L83.9,843.4 L85.6,841.5 L87.3,839.6 L89.1,837.7 L90.9,835.8 L92.7,834.0 L94.5,832.2 L96.3,830.3 L98.1,828.5 L100.0,826.8 L101.9,825.0 L103.7,823.3 L105.6,821.5 L107.6,819.8 L109.5,818.1 L111.4,816.4 L113.4,814.7 L115.3,813.0 L117.3,811.4 L119.3,809.7 L121.2,808.1 L123.2,806.5 L125.2,804.8 L127.2,803.2 L129.2,801.6 L131.3,800.0 L133.3,798.4 L135.3,796.9 L137.4,795.3 L139.4,793.7 L141.4,792.2 L143.5,790.6 L145.5,789.1 L147.6,787.5 L149.7,786.0 L151.7,784.4 L153.8,782.9" stroke="#4b4a8f" stroke-width="1.90" fill="none" stroke-linecap="round" stroke-linejoin="round"/>
<text class="l" x="159.0" y="794.0" textLength="21.9" lengthAdjust="spacingAndGlyphs">1st</text>
<text class="l" x="398.8" y="824.0" textLength="25.5" lengthAdjust="spacingAndGlyphs">2nd</text>
<text class="l" x="496.2" y="817.8" textLength="23.2" lengthAdjust="spacingAndGlyphs">3rd</text>
<text class="l" x="403.8" y="1017.8" textLength="20.0" lengthAdjust="spacingAndGlyphs">1st</text>
<text class="l" x="456.2" y="1017.8" textLength="22.5" lengthAdjust="spacingAndGlyphs">3rd</text>
<text class="l" x="493.8" y="1017.8" textLength="25.8" lengthAdjust="spacingAndGlyphs">2nd</text>
<text class="l" x="546.2" y="1014.8" textLength="57.5" lengthAdjust="spacingAndGlyphs">10mA/g</text>
<rect x="711.25" y="765.60" width="550.25" height="265.65" fill="none" stroke="#2a2a2a" stroke-width="2.6"/>
<path d="M711.25,989.74h6.5 M711.25,948.23h6.5 M711.25,906.73h6.5 M711.25,865.22h6.5 M711.25,823.71h6.5 M711.25,782.20h6.5 M802.96,1031.25v-6 M894.67,1031.25v-6 M986.38,1031.25v-6 M1078.08,1031.25v-6 M1169.79,1031.25v-6" stroke="#2a2a2a" stroke-width="2" fill="none"/>
<text class="n" x="698.2" y="1037.2" text-anchor="end" textLength="21.0" lengthAdjust="spacingAndGlyphs">1.8</text>
<text class="n" x="698.2" y="995.6" text-anchor="end" textLength="21.0" lengthAdjust="spacingAndGlyphs">2.3</text>
<text class="n" x="698.2" y="954.1" text-anchor="end" textLength="21.0" lengthAdjust="spacingAndGlyphs">2.8</text>
<text class="n" x="698.2" y="912.6" text-anchor="end" textLength="21.0" lengthAdjust="spacingAndGlyphs">3.3</text>
<text class="n" x="698.2" y="871.1" text-anchor="end" textLength="21.0" lengthAdjust="spacingAndGlyphs">3.8</text>
<text class="n" x="698.2" y="829.6" text-anchor="end" textLength="21.0" lengthAdjust="spacingAndGlyphs">4.3</text>
<text class="n" x="698.2" y="788.1" text-anchor="end" textLength="21.0" lengthAdjust="spacingAndGlyphs">4.8</text>
<text class="n" x="711.2" y="1059.7" text-anchor="middle">0</text>
<text class="n" x="803.0" y="1059.7" text-anchor="middle" textLength="17.5" lengthAdjust="spacingAndGlyphs">50</text>
<text class="n" x="894.7" y="1059.7" text-anchor="middle" textLength="26.5" lengthAdjust="spacingAndGlyphs">100</text>
<text class="n" x="986.4" y="1059.7" text-anchor="middle" textLength="26.5" lengthAdjust="spacingAndGlyphs">150</text>
<text class="n" x="1078.1" y="1059.7" text-anchor="middle" textLength="26.5" lengthAdjust="spacingAndGlyphs">200</text>
<text class="n" x="1169.8" y="1059.7" text-anchor="middle" textLength="26.5" lengthAdjust="spacingAndGlyphs">250</text>
<text class="n" x="1261.5" y="1059.7" text-anchor="middle" textLength="26.5" lengthAdjust="spacingAndGlyphs">300</text>
<text class="t" x="714.7" y="755.4" textLength="248.1" lengthAdjust="spacingAndGlyphs">(48AH) 48 hours + 300°C 5 hours</text>
<text class="ax" x="921.0" y="1083.9" textLength="130.8" lengthAdjust="spacingAndGlyphs">Capacity (mAh/g)</text>
<text class="t" transform="translate(668.3,990.8) rotate(-90)" x="0" y="0" textLength="177.0" lengthAdjust="spacingAndGlyphs">Potential (V vs. Li/Li+)</text>
<path d="M711.3,791.6 L711.8,794.1 L712.3,796.6 L713.0,799.0 L713.8,801.4 L714.7,803.7 L715.8,806.0 L716.9,808.2 L718.2,810.4 L719.5,812.5 L721.0,814.6 L722.5,816.6 L724.1,818.5 L725.8,820.3 L727.6,822.1 L729.4,823.8 L731.4,825.4 L733.3,827.0 L735.4,828.4 L737.5,829.8 L739.6,831.1 L741.8,832.3 L744.1,833.5 L746.4,834.5 L748.7,835.4 L751.1,836.3 L753.4,837.1 L755.8,837.9 L758.3,838.6 L760.7,839.2 L763.1,839.8 L765.6,840.4 L768.0,840.9 L770.5,841.5 L772.9,842.0 L775.4,842.6 L777.8,843.1 L780.3,843.7 L782.7,844.2 L785.2,844.9 L787.6,845.5 L790.0,846.1 L792.5,846.8 L794.9,847.5 L797.3,848.2 L799.7,848.9 L802.1,849.6 L804.5,850.2 L807.0,850.9 L809.4,851.5 L811.8,852.2 L814.3,852.8 L816.7,853.5 L819.1,854.2 L821.5,855.0 L823.8,855.9 L826.1,856.8 L828.4,857.9 L830.6,859.1 L832.7,860.5 L834.7,862.0 L836.6,863.7 L838.3,865.5 L840.0,867.4 L841.5,869.4 L842.9,871.5 L844.3,873.6 L845.7,875.7 L847.0,877.8 L848.3,880.0 L849.6,882.1 L850.9,884.3 L852.3,886.4 L853.7,888.5 L855.1,890.6 L856.5,892.6 L858.0,894.6 L859.6,896.6 L861.2,898.6 L862.8,900.5 L864.5,902.3 L866.2,904.1 L868.1,905.9 L869.9,907.5 L871.9,909.1 L873.9,910.6 L875.9,912.1 L878.0,913.5 L880.1,914.8 L882.3,916.1 L884.5,917.4 L886.6,918.7 L888.8,919.9 L891.0,921.2 L893.2,922.4 L895.3,923.7 L897.5,925.0 L899.6,926.3 L901.8,927.6 L904.0,928.8 L906.2,930.1 L908.4,931.3 L910.6,932.4 L912.9,933.5 L915.2,934.5 L917.5,935.5 L919.8,936.4 L922.2,937.1 L924.7,937.8 L927.1,938.3 L929.6,938.8 L932.1,939.2 L934.5,939.5 L937.0,939.8 L939.5,940.0 L942.1,940.3 L944.6,940.4 L947.1,940.6 L949.6,940.8 L952.1,941.0 L954.6,941.1 L957.1,941.3 L959.6,941.4 L962.1,941.6 L964.6,941.7 L967.1,941.8 L969.6,941.9 L972.2,942.0 L974.7,942.1 L977.2,942.2 L979.7,942.3 L982.2,942.4 L984.7,942.5 L987.2,942.6 L989.7,942.7 L992.2,942.8 L994.8,942.8 L997.3,942.9 L999.8,943.0 L1002.3,943.0 L1004.8,943.1 L1007.3,943.2 L1009.8,943.2 L1012.3,943.3 L1014.9,943.3 L1017.4,943.4 L1019.9,943.5 L1022.4,943.5 L1024.9,943.6 L1027.4,943.6 L1029.9,943.7 L1032.4,943.8 L1034.9,943.8 L1037.5,943.9 L1040.0,944.0 L1042.5,944.0 L1045.0,944.1 L1047.5,944.2 L1050.0,944.2 L1052.5,944.3 L1055.0,944.4 L1057.6,944.5 L1060.1,944.6 L1062.6,944.7 L1065.1,944.9 L1067.6,945.0 L1070.1,945.2 L1072.6,945.4 L1075.1,945.6 L1077.6,945.8 L1080.1,946.1 L1082.6,946.4 L1085.1,946.7 L1087.6,947.1 L1090.1,947.5 L1092.5,948.0 L1095.0,948.6 L1097.3,949.4 L1099.7,950.3 L1101.9,951.5 L1104.1,952.7 L1106.2,954.1 L1108.2,955.6 L1110.2,957.2 L1112.1,958.8 L1114.0,960.5 L1115.8,962.2 L1117.6,963.9 L1119.4,965.7 L1121.2,967.4 L1123.1,969.1 L1124.9,970.9 L1126.7,972.6 L1128.5,974.4 L1130.3,976.1 L1132.1,977.8 L1134.0,979.5 L1135.8,981.2 L1137.7,983.0 L1139.5,984.7 L1141.4,986.4 L1143.2,988.1 L1145.1,989.7 L1146.9,991.4 L1148.8,993.1 L1150.7,994.8 L1152.6,996.4 L1154.5,998.0 L1156.4,999.7 L1158.3,1001.3 L1160.3,1002.9 L1162.2,1004.5 L1164.1,1006.1 L1166.1,1007.7 L1168.0,1009.3 L1170.0,1010.8 L1172.0,1012.4 L1174.0,1013.9 L1176.0,1015.4" stroke="#448762" stroke-width="1.90" fill="none" stroke-linecap="round" stroke-linejoin="round"/>
<path d="M711.4,791.5 L711.8,794.0 L712.2,796.4 L712.8,798.9 L713.6,801.3 L714.5,803.6 L715.5,806.0 L716.6,808.2 L717.9,810.4 L719.2,812.5 L720.7,814.5 L722.3,816.5 L724.0,818.3 L725.7,820.1 L727.5,821.9 L729.4,823.5 L731.4,825.1 L733.4,826.6 L735.5,828.0 L737.6,829.4 L739.7,830.7 L741.9,831.9 L744.2,833.1 L746.4,834.3 L748.7,835.3 L751.0,836.3 L753.3,837.3 L755.6,838.2 L758.0,839.1 L760.4,840.0 L762.7,840.8 L765.1,841.5 L767.5,842.3 L769.9,843.0 L772.4,843.7 L774.8,844.4 L777.2,845.0 L779.6,845.7 L782.1,846.3 L784.5,846.9 L786.9,847.6 L789.4,848.2 L791.8,848.9 L794.2,849.5 L796.7,850.2 L799.1,850.8 L801.5,851.5 L803.9,852.3 L806.3,853.0 L808.7,853.8 L811.1,854.6 L813.4,855.5 L815.8,856.5 L818.0,857.6 L820.2,858.8 L822.3,860.2 L824.3,861.7 L826.1,863.4 L827.8,865.3 L829.5,867.2 L831.0,869.2 L832.5,871.2 L833.9,873.3 L835.4,875.3 L836.8,877.4 L838.2,879.5 L839.6,881.6 L840.9,883.7 L842.3,885.8 L843.6,887.9 L845.0,890.1 L846.3,892.2 L847.7,894.3 L849.0,896.4 L850.4,898.5 L851.8,900.6 L853.3,902.7 L854.8,904.6 L856.5,906.6 L858.2,908.4 L860.0,910.1 L862.0,911.7 L864.0,913.1 L866.2,914.5 L868.3,915.7 L870.5,917.0 L872.7,918.2 L874.8,919.6 L877.0,920.9 L879.0,922.3 L881.1,923.7 L883.2,925.1 L885.3,926.6 L887.4,928.0 L889.4,929.4 L891.6,930.7 L893.7,932.0 L895.9,933.3 L898.1,934.5 L900.3,935.7 L902.6,936.8 L904.9,937.8 L907.2,938.7 L909.6,939.6 L912.0,940.4 L914.4,941.1 L916.8,941.8 L919.3,942.3 L921.7,942.7 L924.2,943.0 L926.7,943.3 L929.2,943.4 L931.8,943.5 L934.3,943.5 L936.8,943.5 L939.3,943.5 L941.8,943.4 L944.3,943.4 L946.8,943.3 L949.4,943.3 L951.9,943.2 L954.4,943.2 L956.9,943.2 L959.4,943.2 L961.9,943.1 L964.4,943.1 L967.0,943.2 L969.5,943.2 L972.0,943.2 L974.5,943.2 L977.0,943.2 L979.5,943.3 L982.0,943.3 L984.6,943.3 L987.1,943.4 L989.6,943.5 L992.1,943.5 L994.6,943.6 L997.1,943.6 L999.6,943.7 L1002.2,943.8 L1004.7,943.9 L1007.2,943.9 L1009.7,944.0 L1012.2,944.1 L1014.7,944.2 L1017.2,944.3 L1019.7,944.4 L1022.3,944.4 L1024.8,944.5 L1027.3,944.6 L1029.8,944.7 L1032.3,944.8 L1034.8,944.9 L1037.3,945.0 L1039.9,945.1 L1042.4,945.1 L1044.9,945.2 L1047.4,945.3 L1049.9,945.4 L1052.4,945.5 L1054.9,945.6 L1057.4,945.6 L1060.0,945.7 L1062.5,945.8 L1065.0,945.8 L1067.5,945.9 L1070.0,945.9 L1072.5,946.0 L1075.0,946.1 L1077.6,946.2 L1080.1,946.3 L1082.6,946.5 L1085.1,946.7 L1087.6,947.1 L1090.0,947.5 L1092.5,948.1 L1094.9,948.8 L1097.3,949.7 L1099.6,950.7 L1101.8,951.8 L1103.9,953.1 L1106.0,954.6 L1108.0,956.1 L1110.0,957.7 L1111.9,959.3 L1113.7,961.1 L1115.5,962.8 L1117.3,964.6 L1119.1,966.3 L1120.9,968.1 L1122.7,969.8 L1124.5,971.5 L1126.4,973.2 L1128.3,974.9 L1130.2,976.6 L1132.0,978.2 L1133.9,979.9 L1135.8,981.5 L1137.7,983.2 L1139.6,984.8 L1141.5,986.5 L1143.4,988.1 L1145.3,989.8 L1147.2,991.5 L1149.0,993.2 L1150.9,994.9 L1152.7,996.6 L1154.6,998.3 L1156.4,1000.1 L1158.2,1001.8 L1159.9,1003.6 L1161.7,1005.4 L1163.5,1007.1 L1165.4,1008.8 L1167.4,1010.4 L1169.4,1011.8 L1171.6,1013.1 L1173.9,1014.2 L1176.2,1015.0" stroke="#b3689f" stroke-width="1.90" fill="none" stroke-linecap="round" stroke-linejoin="round"/>
<path d="M711.4,791.5 L711.7,794.0 L712.3,796.4 L712.9,798.9 L713.7,801.3 L714.6,803.6 L715.6,805.9 L716.7,808.1 L718.0,810.3 L719.3,812.4 L720.8,814.5 L722.4,816.4 L724.0,818.3 L725.7,820.2 L727.6,821.9 L729.4,823.6 L731.4,825.2 L733.4,826.7 L735.4,828.2 L737.5,829.6 L739.6,830.9 L741.8,832.2 L743.9,833.5 L746.2,834.6 L748.4,835.8 L750.7,836.9 L753.0,837.9 L755.3,838.9 L757.6,839.9 L759.9,840.9 L762.2,841.8 L764.6,842.6 L767.0,843.5 L769.3,844.4 L771.7,845.2 L774.1,846.0 L776.4,846.9 L778.8,847.7 L781.2,848.6 L783.5,849.5 L785.9,850.4 L788.2,851.3 L790.5,852.3 L792.8,853.3 L795.1,854.3 L797.4,855.4 L799.6,856.5 L801.8,857.8 L803.9,859.1 L806.0,860.6 L807.9,862.1 L809.8,863.9 L811.4,865.7 L813.0,867.7 L814.3,869.8 L815.6,872.0 L816.7,874.3 L817.8,876.5 L818.8,878.9 L819.7,881.2 L820.6,883.5 L821.4,885.9 L822.3,888.3 L823.2,890.6 L824.1,893.0 L825.0,895.3 L826.0,897.6 L827.1,899.9 L828.2,902.1 L829.5,904.3 L830.8,906.5 L832.2,908.5 L833.7,910.5 L835.4,912.4 L837.2,914.2 L839.1,915.8 L841.1,917.4 L843.1,918.9 L845.2,920.2 L847.3,921.6 L849.5,922.9 L851.7,924.1 L853.9,925.3 L856.1,926.5 L858.3,927.7 L860.5,928.9 L862.7,930.1 L864.9,931.3 L867.1,932.5 L869.4,933.6 L871.6,934.7 L873.9,935.8 L876.2,936.7 L878.6,937.6 L881.0,938.5 L883.3,939.2 L885.8,939.9 L888.2,940.5 L890.7,941.1 L893.1,941.6 L895.6,942.0 L898.1,942.4 L900.6,942.7 L903.1,942.9 L905.6,943.2 L908.1,943.3 L910.6,943.5 L913.1,943.6 L915.6,943.6 L918.1,943.7 L920.6,943.7 L923.2,943.7 L925.7,943.7 L928.2,943.6 L930.7,943.6 L933.2,943.5 L935.7,943.4 L938.2,943.3 L940.7,943.3 L943.3,943.2 L945.8,943.1 L948.3,943.0 L950.8,943.0 L953.3,942.9 L955.8,942.9 L958.3,942.9 L960.9,942.9 L963.4,942.8 L965.9,942.8 L968.4,942.8 L970.9,942.8 L973.4,942.8 L975.9,942.8 L978.4,942.9 L981.0,942.9 L983.5,942.9 L986.0,943.0 L988.5,943.0 L991.0,943.1 L993.5,943.1 L996.0,943.2 L998.6,943.2 L1001.1,943.3 L1003.6,943.3 L1006.1,943.4 L1008.6,943.5 L1011.1,943.6 L1013.6,943.6 L1016.1,943.7 L1018.6,943.8 L1021.2,943.9 L1023.7,944.0 L1026.2,944.0 L1028.7,944.1 L1031.2,944.2 L1033.7,944.3 L1036.2,944.4 L1038.7,944.5 L1041.3,944.6 L1043.8,944.7 L1046.3,944.8 L1048.8,944.9 L1051.3,944.9 L1053.8,945.0 L1056.3,945.1 L1058.8,945.2 L1061.4,945.3 L1063.9,945.4 L1066.4,945.4 L1068.9,945.5 L1071.4,945.6 L1073.9,945.7 L1076.4,945.8 L1078.9,945.9 L1081.4,946.1 L1083.9,946.4 L1086.4,946.8 L1088.9,947.2 L1091.3,947.8 L1093.7,948.6 L1096.1,949.5 L1098.3,950.7 L1100.5,951.9 L1102.5,953.4 L1104.5,954.9 L1106.5,956.5 L1108.3,958.2 L1110.1,959.9 L1111.9,961.7 L1113.6,963.5 L1115.3,965.4 L1117.0,967.2 L1118.7,969.1 L1120.4,970.9 L1122.2,972.8 L1123.9,974.6 L1125.7,976.3 L1127.5,978.1 L1129.4,979.7 L1131.3,981.4 L1133.3,983.0 L1135.2,984.5 L1137.2,986.1 L1139.2,987.6 L1141.2,989.1 L1143.3,990.6 L1145.3,992.0 L1147.3,993.5 L1149.4,995.0 L1151.4,996.4 L1153.5,997.9 L1155.5,999.4 L1157.5,1000.9 L1159.5,1002.4 L1161.5,1004.0 L1163.4,1005.6 L1165.4,1007.2 L1167.2,1008.9 L1169.0,1010.6 L1170.8,1012.4 L1172.5,1014.2" stroke="#4b4a8f" stroke-width="1.90" fill="none" stroke-linecap="round" stroke-linejoin="round"/>
<path d="M711.0,1001.6 L712.0,999.3 L713.0,997.0 L714.1,994.7 L715.2,992.5 L716.4,990.2 L717.6,988.0 L718.8,985.8 L720.1,983.6 L721.4,981.5 L722.7,979.3 L724.0,977.1 L725.3,975.0 L726.7,972.9 L728.0,970.7 L729.4,968.6 L730.8,966.5 L732.2,964.4 L733.6,962.4 L735.1,960.3 L736.6,958.3 L738.2,956.3 L739.8,954.4 L741.5,952.5 L743.2,950.7 L745.0,949.0 L746.9,947.3 L748.8,945.6 L750.8,944.1 L752.9,942.6 L755.0,941.3 L757.2,940.0 L759.4,938.8 L761.7,937.8 L764.1,936.9 L766.5,936.1 L768.9,935.5 L771.4,935.1 L773.9,934.8 L776.4,934.6 L778.9,934.5 L781.4,934.4 L784.0,934.4 L786.5,934.4 L789.0,934.4 L791.5,934.3 L794.0,934.3 L796.6,934.3 L799.1,934.3 L801.6,934.3 L804.1,934.2 L806.6,934.2 L809.2,934.2 L811.7,934.2 L814.2,934.2 L816.7,934.1 L819.2,934.1 L821.8,934.1 L824.3,934.1 L826.8,934.0 L829.3,934.0 L831.8,934.0 L834.4,934.0 L836.9,933.9 L839.4,933.9 L841.9,933.9 L844.4,933.9 L847.0,933.8 L849.5,933.8 L852.0,933.8 L854.5,933.8 L857.0,933.7 L859.6,933.7 L862.1,933.7 L864.6,933.7 L867.1,933.7 L869.6,933.7 L872.2,933.6 L874.7,933.6 L877.2,933.6 L879.7,933.6 L882.2,933.6 L884.8,933.6 L887.3,933.6 L889.8,933.6 L892.3,933.6 L894.8,933.6 L897.4,933.6 L899.9,933.6 L902.4,933.6 L904.9,933.7 L907.4,933.7 L910.0,933.7 L912.5,933.7 L915.0,933.7 L917.5,933.7 L920.0,933.7 L922.6,933.7 L925.1,933.7 L927.6,933.7 L930.1,933.6 L932.6,933.5 L935.2,933.4 L937.7,933.2 L940.2,933.0 L942.7,932.8 L945.2,932.6 L947.7,932.3 L950.2,931.9 L952.7,931.5 L955.2,931.0 L957.6,930.5 L960.1,930.0 L962.5,929.3 L965.0,928.7 L967.4,927.9 L969.8,927.1 L972.1,926.3 L974.5,925.3 L976.8,924.3 L979.1,923.3 L981.3,922.2 L983.6,921.0 L985.8,919.7 L987.9,918.4 L990.0,917.0 L992.1,915.6 L994.1,914.1 L996.0,912.5 L997.9,910.8 L999.8,909.1 L1001.5,907.3 L1003.2,905.4 L1004.9,903.5 L1006.4,901.5 L1007.9,899.5 L1009.4,897.5 L1010.9,895.4 L1012.3,893.4 L1013.8,891.3 L1015.3,889.3 L1016.9,887.4 L1018.6,885.5 L1020.4,883.7 L1022.3,882.1 L1024.4,880.6 L1026.5,879.3 L1028.7,878.1 L1031.0,877.0 L1033.3,875.9 L1035.5,874.7 L1037.6,873.3 L1039.7,871.9 L1041.7,870.4 L1043.6,868.8 L1045.6,867.1 L1047.5,865.5 L1049.4,863.9 L1051.3,862.3 L1053.3,860.7 L1055.3,859.2 L1057.4,857.8 L1059.5,856.4 L1061.7,855.2 L1063.9,854.0 L1066.2,852.9 L1068.5,851.8 L1070.8,850.8 L1073.1,849.8 L1075.5,848.9 L1077.8,848.0 L1080.2,847.2 L1082.6,846.4 L1085.0,845.7 L1087.4,845.0 L1089.9,844.3 L1092.3,843.6 L1094.7,842.9 L1097.2,842.3 L1099.6,841.6 L1102.0,841.0 L1104.5,840.4 L1106.9,839.7 L1109.3,839.1 L1111.8,838.4 L1114.2,837.7 L1116.6,837.0 L1119.0,836.3 L1121.4,835.5 L1123.8,834.8 L1126.2,834.0 L1128.6,833.1 L1131.0,832.3 L1133.3,831.4 L1135.7,830.6 L1138.1,829.7 L1140.4,828.8 L1142.8,827.8 L1145.1,826.9 L1147.4,825.9 L1149.7,824.9 L1152.1,824.0 L1154.4,823.0 L1156.7,821.9 L1159.0,820.9 L1161.3,819.9 L1163.6,818.8 L1165.9,817.8 L1168.2,816.7 L1170.4,815.7 L1172.7,814.6 L1175.0,813.5 L1177.3,812.4 L1179.5,811.3 L1181.8,810.2 L1184.1,809.1 L1186.3,808.0 L1188.6,806.8 L1190.8,805.7 L1193.1,804.5 L1195.3,803.3 L1197.5,802.1 L1199.7,800.9 L1201.9,799.7 L1204.1,798.4 L1206.2,797.1 L1208.4,795.8 L1210.5,794.5 L1212.6,793.1 L1214.7,791.7 L1216.8,790.3 L1218.9,788.8 L1220.9,787.3 L1222.9,785.8 L1224.9,784.3 L1226.9,782.7 L1228.8,781.1" stroke="#b3689f" stroke-width="1.90" fill="none" stroke-linecap="round" stroke-linejoin="round"/>
<path d="M710.9,1001.6 L712.0,999.3 L713.1,997.1 L714.2,994.8 L715.3,992.6 L716.5,990.4 L717.7,988.2 L718.9,986.0 L720.1,983.8 L721.4,981.6 L722.7,979.4 L724.0,977.3 L725.3,975.1 L726.6,973.0 L727.9,970.8 L729.2,968.7 L730.6,966.6 L732.0,964.5 L733.4,962.4 L734.9,960.4 L736.4,958.4 L737.9,956.4 L739.5,954.5 L741.2,952.6 L743.0,950.8 L744.8,949.1 L746.6,947.4 L748.6,945.8 L750.6,944.3 L752.7,942.9 L754.8,941.6 L757.0,940.4 L759.3,939.3 L761.6,938.3 L763.9,937.4 L766.3,936.6 L768.7,935.9 L771.2,935.4 L773.7,935.0 L776.2,934.7 L778.7,934.5 L781.2,934.3 L783.7,934.1 L786.2,934.0 L788.7,933.9 L791.2,933.9 L793.7,933.8 L796.2,933.8 L798.7,933.7 L801.3,933.7 L803.8,933.7 L806.3,933.7 L808.8,933.7 L811.3,933.7 L813.8,933.8 L816.3,933.8 L818.8,933.8 L821.3,933.9 L823.9,933.9 L826.4,934.0 L828.9,934.0 L831.4,934.1 L833.9,934.1 L836.4,934.2 L838.9,934.2 L841.4,934.3 L843.9,934.3 L846.5,934.3 L849.0,934.4 L851.5,934.4 L854.0,934.4 L856.5,934.4 L859.0,934.4 L861.5,934.3 L864.0,934.3 L866.5,934.2 L869.1,934.2 L871.6,934.1 L874.1,934.1 L876.6,934.0 L879.1,933.9 L881.6,933.9 L884.1,933.8 L886.6,933.7 L889.1,933.7 L891.7,933.6 L894.2,933.6 L896.7,933.5 L899.2,933.5 L901.7,933.5 L904.2,933.5 L906.7,933.5 L909.2,933.5 L911.7,933.6 L914.3,933.6 L916.8,933.6 L919.3,933.7 L921.8,933.7 L924.3,933.6 L926.8,933.6 L929.3,933.5 L931.8,933.4 L934.3,933.2 L936.8,932.9 L939.3,932.6 L941.8,932.2 L944.3,931.7 L946.7,931.1 L949.1,930.4 L951.5,929.6 L953.8,928.7 L956.1,927.6 L958.3,926.5 L960.5,925.2 L962.6,923.8 L964.6,922.3 L966.6,920.8 L968.5,919.2 L970.4,917.5 L972.3,915.8 L974.1,914.0 L975.8,912.3 L977.6,910.5 L979.4,908.7 L981.1,906.9 L982.8,905.0 L984.5,903.2 L986.3,901.4 L988.0,899.6 L989.8,897.8 L991.6,896.0 L993.4,894.3 L995.2,892.6 L997.1,890.9 L999.0,889.2 L1000.9,887.6 L1002.9,886.1 L1004.9,884.6 L1006.9,883.1 L1009.0,881.8 L1011.2,880.4 L1013.3,879.1 L1015.5,877.8 L1017.6,876.5 L1019.8,875.3 L1022.0,874.0 L1024.1,872.7 L1026.2,871.4 L1028.4,870.1 L1030.5,868.7 L1032.6,867.4 L1034.7,866.0 L1036.8,864.7 L1039.0,863.3 L1041.1,862.0 L1043.3,860.7 L1045.4,859.5 L1047.6,858.2 L1049.9,857.1 L1052.1,855.9 L1054.4,854.9 L1056.7,853.8 L1059.0,852.9 L1061.3,852.0 L1063.7,851.1 L1066.1,850.3 L1068.5,849.5 L1070.9,848.8 L1073.3,848.1 L1075.7,847.4 L1078.1,846.8 L1080.5,846.1 L1083.0,845.5 L1085.4,844.9 L1087.8,844.3 L1090.3,843.7 L1092.7,843.2 L1095.2,842.6 L1097.6,842.0 L1100.1,841.4 L1102.5,840.8 L1105.0,840.2 L1107.4,839.6 L1109.8,839.0 L1112.2,838.4 L1114.7,837.7 L1117.1,837.0 L1119.5,836.3 L1121.9,835.5 L1124.3,834.7 L1126.6,833.9 L1129.0,833.1 L1131.4,832.3 L1133.7,831.4 L1136.1,830.5 L1138.4,829.6 L1140.8,828.7 L1143.1,827.8 L1145.4,826.8 L1147.7,825.8 L1150.1,824.8 L1152.4,823.8 L1154.7,822.8 L1157.0,821.8 L1159.2,820.8 L1161.5,819.7 L1163.8,818.7 L1166.1,817.6 L1168.4,816.6 L1170.6,815.5 L1172.9,814.4 L1175.2,813.3 L1177.4,812.3 L1179.7,811.2 L1182.0,810.1 L1184.2,809.0 L1186.5,807.9 L1188.7,806.7 L1191.0,805.6 L1193.2,804.4 L1195.4,803.3 L1197.6,802.1 L1199.8,800.9 L1202.0,799.6 L1204.2,798.4 L1206.3,797.1 L1208.5,795.8 L1210.6,794.5 L1212.7,793.1 L1214.8,791.7 L1216.9,790.3 L1218.9,788.8 L1221.0,787.4 L1223.0,785.8 L1224.9,784.3 L1226.9,782.7 L1228.8,781.0" stroke="#448762" stroke-width="1.90" fill="none" stroke-linecap="round" stroke-linejoin="round"/>
<path d="M710.1,872.0 L711.5,869.9 L713.0,867.8 L714.6,865.9 L716.4,864.0 L718.2,862.2 L720.1,860.4 L722.1,858.8 L724.1,857.3 L726.2,855.8 L728.4,854.4 L730.6,853.1 L732.8,851.9 L735.1,850.7 L737.4,849.6 L739.8,848.5 L742.1,847.5 L744.5,846.6 L746.9,845.6 L749.3,844.7 L751.7,843.8 L754.1,843.0 L756.5,842.1 L758.9,841.3 L761.4,840.5 L763.8,839.6 L766.2,838.8 L768.6,837.9 L771.0,837.1 L773.4,836.2 L775.8,835.2 L778.2,834.3 L780.6,833.3 L782.9,832.2 L785.2,831.1 L787.5,830.0 L789.8,828.8 L792.0,827.6 L794.3,826.3 L796.5,825.0 L798.7,823.7 L800.9,822.3 L803.0,820.9 L805.2,819.5 L807.3,818.1 L809.4,816.6 L811.5,815.1 L813.6,813.6 L815.6,812.1 L817.7,810.6 L819.8,809.1 L821.8,807.5 L823.8,806.0 L825.9,804.4 L827.9,802.9 L830.0,801.3 L832.0,799.8 L834.0,798.2 L836.1,796.7 L838.1,795.1 L840.2,793.6 L842.3,792.1 L844.4,790.6 L846.4,789.1 L848.5,787.6 L850.7,786.2 L852.8,784.7 L854.9,783.3 L857.1,782.0 L859.3,780.6" stroke="#4b4a8f" stroke-width="1.90" fill="none" stroke-linecap="round" stroke-linejoin="round"/>
<path d="M835.8,947.5 L849.6,904.5" stroke="#6a6a6a" stroke-width="1" fill="none"/>
<path d="M849.6,904.5 L850.1,908.0 L847.1,907.1 Z" fill="#1a1a1a" stroke="#1a1a1a" stroke-width="0.8" stroke-linejoin="round"/>
<path d="M856.2,961.0 L873.4,915.0" stroke="#6a6a6a" stroke-width="1" fill="none"/>
<path d="M873.4,915.0 L873.8,918.6 L870.8,917.4 Z" fill="#1a1a1a" stroke="#1a1a1a" stroke-width="0.8" stroke-linejoin="round"/>
<text class="l" x="824.5" y="793.0" textLength="21.2" lengthAdjust="spacingAndGlyphs">1st</text>
<text class="l" x="768.2" y="891.8" textLength="21.2" lengthAdjust="spacingAndGlyphs">1st</text>
<text class="l" x="813.2" y="963.0" textLength="26.2" lengthAdjust="spacingAndGlyphs">2nd</text>
<text class="l" x="845.8" y="976.8" textLength="23.2" lengthAdjust="spacingAndGlyphs">3rd</text>
<text class="l" x="978.2" y="872.5" textLength="23.2" lengthAdjust="spacingAndGlyphs">3rd</text>
<text class="l" x="1016.2" y="903.0" textLength="26.2" lengthAdjust="spacingAndGlyphs">2nd</text>
<text class="l" x="1193.8" y="1011.8" textLength="57.5" lengthAdjust="spacingAndGlyphs">10mA/g</text>
</svg>
</body></html>
